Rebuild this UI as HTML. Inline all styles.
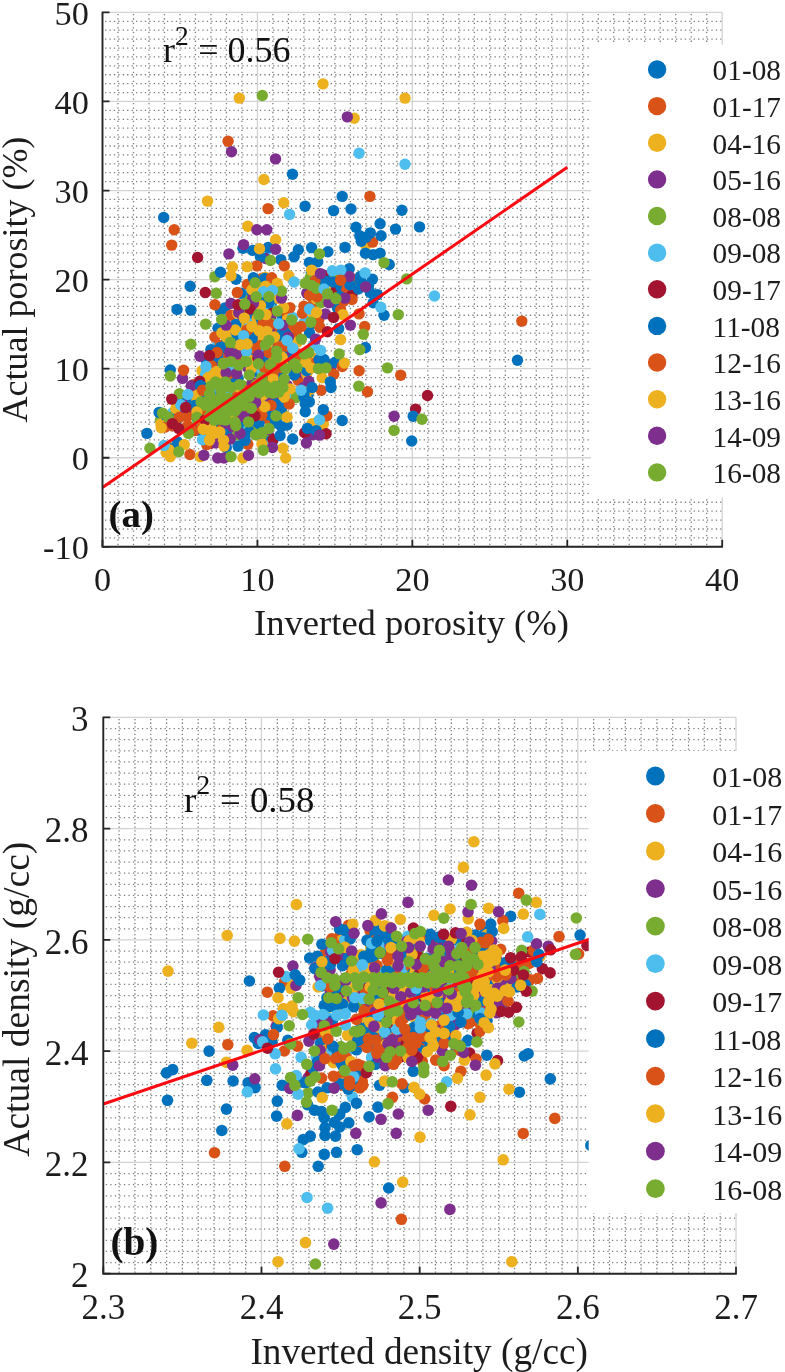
<!DOCTYPE html>
<html><head><meta charset="utf-8"><title>Figure</title>
<style>html,body{margin:0;padding:0;background:#fff}svg{display:block}</style></head>
<body><svg width="785" height="1372" viewBox="0 0 785 1372">
<rect width="785" height="1372" fill="#fff"/>
<path d="M117.99 13.90V546.8M133.49 13.90V546.8M148.98 13.90V546.8M164.47 13.90V546.8M179.96 13.90V546.8M195.46 13.90V546.8M210.95 13.90V546.8M226.44 13.90V546.8M241.93 13.90V546.8M272.92 13.90V546.8M288.41 13.90V546.8M303.90 13.90V546.8M319.39 13.90V546.8M334.89 13.90V546.8M350.38 13.90V546.8M365.87 13.90V546.8M381.37 13.90V546.8M396.86 13.90V546.8M427.84 13.90V546.8M443.34 13.90V546.8M458.83 13.90V546.8M474.32 13.90V546.8M489.81 13.90V546.8M505.31 13.90V546.8M520.80 13.90V546.8M536.29 13.90V546.8M551.78 13.90V546.8M582.77 13.90V546.8M598.26 13.90V546.8M613.75 13.90V546.8M629.25 13.90V546.8M644.74 13.90V546.8M660.23 13.90V546.8M675.72 13.90V546.8M691.22 13.90V546.8M706.71 13.90V546.8" stroke="#7c7c7c" stroke-width="1.3" stroke-dasharray="1.3 3.153" fill="none"/>
<path d="M105.00 21.31H722.2M105.00 30.21H722.2M105.00 39.12H722.2M105.00 48.03H722.2M105.00 56.93H722.2M105.00 65.84H722.2M105.00 74.75H722.2M105.00 83.65H722.2M105.00 92.56H722.2M105.00 110.37H722.2M105.00 119.28H722.2M105.00 128.19H722.2M105.00 137.09H722.2M105.00 146.00H722.2M105.00 154.91H722.2M105.00 163.81H722.2M105.00 172.72H722.2M105.00 181.63H722.2M105.00 199.44H722.2M105.00 208.35H722.2M105.00 217.25H722.2M105.00 226.16H722.2M105.00 235.07H722.2M105.00 243.97H722.2M105.00 252.88H722.2M105.00 261.79H722.2M105.00 270.69H722.2M105.00 288.51H722.2M105.00 297.41H722.2M105.00 306.32H722.2M105.00 315.23H722.2M105.00 324.13H722.2M105.00 333.04H722.2M105.00 341.95H722.2M105.00 350.85H722.2M105.00 359.76H722.2M105.00 377.57H722.2M105.00 386.48H722.2M105.00 395.39H722.2M105.00 404.29H722.2M105.00 413.20H722.2M105.00 422.11H722.2M105.00 431.01H722.2M105.00 439.92H722.2M105.00 448.83H722.2M105.00 466.64H722.2M105.00 475.55H722.2M105.00 484.45H722.2M105.00 493.36H722.2M105.00 502.27H722.2M105.00 511.17H722.2M105.00 520.08H722.2M105.00 528.99H722.2M105.00 537.89H722.2" stroke="#7c7c7c" stroke-width="1.3" stroke-dasharray="1.3 3.126" fill="none"/>
<path d="M102.50 12.4V546.8M257.43 12.4V546.8M412.35 12.4V546.8M567.28 12.4V546.8M722.20 12.4V546.8M102.5 12.40H722.2M102.5 101.47H722.2M102.5 190.53H722.2M102.5 279.60H722.2M102.5 368.67H722.2M102.5 457.73H722.2M102.5 546.80H722.2" stroke="#d3d3d3" stroke-width="1.3" fill="none"/>
<clipPath id="clipa"><rect x="102.5" y="4.4" width="627.7" height="550.4"/></clipPath>
<g clip-path="url(#clipa)">
<g fill="#77AC30"><circle cx="160.4" cy="420.3" r="5.7"/></g>
<g fill="#EDB120"><circle cx="160.9" cy="423.9" r="5.7"/></g>
<g fill="#0072BD"><circle cx="167.5" cy="420.1" r="5.7"/></g>
<g fill="#EDB120"><circle cx="165.0" cy="425.2" r="5.7"/><circle cx="167.9" cy="446.9" r="5.7"/></g>
<g fill="#4DBEEE"><circle cx="172.8" cy="412.8" r="5.7"/></g>
<g fill="#0072BD"><circle cx="173.5" cy="417.0" r="5.7"/></g>
<g fill="#D95319"><circle cx="172.1" cy="425.7" r="5.7"/></g>
<g fill="#0072BD"><circle cx="170.8" cy="448.6" r="5.7"/></g>
<g fill="#EDB120"><circle cx="175.8" cy="408.7" r="5.7"/></g>
<g fill="#0072BD"><circle cx="175.8" cy="422.8" r="5.7"/><circle cx="181.7" cy="403.1" r="5.7"/></g>
<g fill="#7E2F8E"><circle cx="188.3" cy="404.1" r="5.7"/></g>
<g fill="#4DBEEE"><circle cx="185.6" cy="410.9" r="5.7"/></g>
<g fill="#7E2F8E"><circle cx="185.4" cy="413.2" r="5.7"/></g>
<g fill="#D95319"><circle cx="187.7" cy="425.6" r="5.7"/><circle cx="193.2" cy="384.6" r="5.7"/></g>
<g fill="#77AC30"><circle cx="192.3" cy="395.4" r="5.7"/></g>
<g fill="#0072BD"><circle cx="191.9" cy="404.3" r="5.7"/></g>
<g fill="#D95319"><circle cx="190.9" cy="410.1" r="5.7"/></g>
<g fill="#7E2F8E"><circle cx="190.6" cy="414.1" r="5.7"/></g>
<g fill="#EDB120"><circle cx="197.6" cy="393.4" r="5.7"/><circle cx="196.9" cy="400.0" r="5.7"/></g>
<g fill="#0072BD"><circle cx="196.5" cy="408.9" r="5.7"/></g>
<g fill="#A2142F"><circle cx="195.1" cy="414.7" r="5.7"/></g>
<g fill="#0072BD"><circle cx="197.3" cy="418.5" r="5.7"/></g>
<g fill="#77AC30"><circle cx="196.9" cy="425.8" r="5.7"/></g>
<g fill="#0072BD"><circle cx="197.1" cy="430.3" r="5.7"/></g>
<g fill="#EDB120"><circle cx="202.0" cy="370.7" r="5.7"/><circle cx="201.7" cy="383.0" r="5.7"/></g>
<g fill="#77AC30"><circle cx="203.7" cy="391.9" r="5.7"/></g>
<g fill="#7E2F8E"><circle cx="203.2" cy="405.4" r="5.7"/></g>
<g fill="#EDB120"><circle cx="203.1" cy="409.0" r="5.7"/></g>
<g fill="#4DBEEE"><circle cx="201.6" cy="412.1" r="5.7"/></g>
<g fill="#EDB120"><circle cx="202.2" cy="422.7" r="5.7"/></g>
<g fill="#D95319"><circle cx="201.8" cy="428.3" r="5.7"/></g>
<g fill="#EDB120"><circle cx="207.1" cy="359.4" r="5.7"/></g>
<g fill="#0072BD"><circle cx="206.7" cy="362.0" r="5.7"/></g>
<g fill="#4DBEEE"><circle cx="205.6" cy="374.2" r="5.7"/></g>
<g fill="#77AC30"><circle cx="208.1" cy="380.1" r="5.7"/></g>
<g fill="#7E2F8E"><circle cx="205.9" cy="385.3" r="5.7"/></g>
<g fill="#0072BD"><circle cx="205.2" cy="387.0" r="5.7"/><circle cx="207.9" cy="392.9" r="5.7"/><circle cx="207.4" cy="398.3" r="5.7"/><circle cx="205.5" cy="404.0" r="5.7"/></g>
<g fill="#EDB120"><circle cx="206.0" cy="409.7" r="5.7"/></g>
<g fill="#0072BD"><circle cx="206.2" cy="413.8" r="5.7"/><circle cx="206.4" cy="418.6" r="5.7"/></g>
<g fill="#EDB120"><circle cx="205.3" cy="425.5" r="5.7"/></g>
<g fill="#77AC30"><circle cx="205.7" cy="429.3" r="5.7"/></g>
<g fill="#0072BD"><circle cx="205.0" cy="432.0" r="5.7"/></g>
<g fill="#7E2F8E"><circle cx="207.8" cy="437.5" r="5.7"/></g>
<g fill="#0072BD"><circle cx="212.6" cy="359.1" r="5.7"/></g>
<g fill="#EDB120"><circle cx="213.8" cy="365.1" r="5.7"/></g>
<g fill="#D95319"><circle cx="210.8" cy="369.5" r="5.7"/></g>
<g fill="#7E2F8E"><circle cx="212.2" cy="373.2" r="5.7"/></g>
<g fill="#A2142F"><circle cx="210.1" cy="378.1" r="5.7"/></g>
<g fill="#4DBEEE"><circle cx="213.4" cy="383.1" r="5.7"/></g>
<g fill="#7E2F8E"><circle cx="211.1" cy="390.7" r="5.7"/></g>
<g fill="#0072BD"><circle cx="211.6" cy="392.9" r="5.7"/></g>
<g fill="#77AC30"><circle cx="213.4" cy="397.1" r="5.7"/></g>
<g fill="#0072BD"><circle cx="213.7" cy="404.2" r="5.7"/></g>
<g fill="#7E2F8E"><circle cx="213.4" cy="410.8" r="5.7"/></g>
<g fill="#D95319"><circle cx="211.9" cy="413.4" r="5.7"/></g>
<g fill="#EDB120"><circle cx="210.7" cy="419.6" r="5.7"/></g>
<g fill="#7E2F8E"><circle cx="210.7" cy="422.3" r="5.7"/></g>
<g fill="#D95319"><circle cx="211.1" cy="428.9" r="5.7"/></g>
<g fill="#0072BD"><circle cx="213.4" cy="440.5" r="5.7"/></g>
<g fill="#A2142F"><circle cx="210.7" cy="443.2" r="5.7"/></g>
<g fill="#0072BD"><circle cx="218.0" cy="328.3" r="5.7"/></g>
<g fill="#4DBEEE"><circle cx="217.6" cy="345.3" r="5.7"/></g>
<g fill="#7E2F8E"><circle cx="216.3" cy="355.4" r="5.7"/></g>
<g fill="#0072BD"><circle cx="216.8" cy="360.8" r="5.7"/><circle cx="217.8" cy="362.2" r="5.7"/></g>
<g fill="#7E2F8E"><circle cx="218.5" cy="367.8" r="5.7"/></g>
<g fill="#D95319"><circle cx="217.3" cy="375.3" r="5.7"/></g>
<g fill="#4DBEEE"><circle cx="216.3" cy="378.1" r="5.7"/><circle cx="217.3" cy="385.7" r="5.7"/></g>
<g fill="#0072BD"><circle cx="215.4" cy="389.1" r="5.7"/></g>
<g fill="#4DBEEE"><circle cx="215.1" cy="392.2" r="5.7"/></g>
<g fill="#D95319"><circle cx="218.1" cy="400.2" r="5.7"/><circle cx="217.4" cy="405.0" r="5.7"/></g>
<g fill="#0072BD"><circle cx="217.2" cy="407.8" r="5.7"/></g>
<g fill="#EDB120"><circle cx="216.0" cy="415.5" r="5.7"/></g>
<g fill="#D95319"><circle cx="218.6" cy="418.7" r="5.7"/></g>
<g fill="#0072BD"><circle cx="218.0" cy="425.2" r="5.7"/><circle cx="217.6" cy="427.3" r="5.7"/></g>
<g fill="#D95319"><circle cx="218.4" cy="432.1" r="5.7"/></g>
<g fill="#0072BD"><circle cx="218.9" cy="438.6" r="5.7"/></g>
<g fill="#7E2F8E"><circle cx="215.6" cy="442.9" r="5.7"/></g>
<g fill="#D95319"><circle cx="220.3" cy="345.5" r="5.7"/><circle cx="223.8" cy="350.5" r="5.7"/></g>
<g fill="#0072BD"><circle cx="220.9" cy="353.8" r="5.7"/><circle cx="222.5" cy="357.1" r="5.7"/></g>
<g fill="#EDB120"><circle cx="223.8" cy="363.1" r="5.7"/></g>
<g fill="#0072BD"><circle cx="221.7" cy="368.2" r="5.7"/></g>
<g fill="#A2142F"><circle cx="223.6" cy="375.8" r="5.7"/></g>
<g fill="#EDB120"><circle cx="220.3" cy="377.8" r="5.7"/></g>
<g fill="#7E2F8E"><circle cx="223.8" cy="384.1" r="5.7"/></g>
<g fill="#EDB120"><circle cx="222.5" cy="387.9" r="5.7"/></g>
<g fill="#0072BD"><circle cx="221.1" cy="392.9" r="5.7"/></g>
<g fill="#EDB120"><circle cx="221.0" cy="400.8" r="5.7"/></g>
<g fill="#4DBEEE"><circle cx="222.5" cy="404.5" r="5.7"/></g>
<g fill="#D95319"><circle cx="221.5" cy="408.1" r="5.7"/></g>
<g fill="#4DBEEE"><circle cx="221.2" cy="415.3" r="5.7"/></g>
<g fill="#EDB120"><circle cx="221.1" cy="418.2" r="5.7"/></g>
<g fill="#D95319"><circle cx="222.2" cy="429.3" r="5.7"/></g>
<g fill="#0072BD"><circle cx="225.0" cy="307.9" r="5.7"/><circle cx="227.1" cy="327.2" r="5.7"/></g>
<g fill="#77AC30"><circle cx="227.4" cy="333.1" r="5.7"/></g>
<g fill="#0072BD"><circle cx="226.9" cy="340.4" r="5.7"/><circle cx="226.9" cy="345.1" r="5.7"/></g>
<g fill="#77AC30"><circle cx="228.7" cy="347.6" r="5.7"/></g>
<g fill="#D95319"><circle cx="228.8" cy="355.2" r="5.7"/></g>
<g fill="#4DBEEE"><circle cx="225.3" cy="364.0" r="5.7"/></g>
<g fill="#0072BD"><circle cx="226.1" cy="370.5" r="5.7"/></g>
<g fill="#D95319"><circle cx="228.5" cy="377.0" r="5.7"/></g>
<g fill="#4DBEEE"><circle cx="228.5" cy="395.1" r="5.7"/></g>
<g fill="#7E2F8E"><circle cx="228.3" cy="399.9" r="5.7"/></g>
<g fill="#0072BD"><circle cx="225.6" cy="403.6" r="5.7"/></g>
<g fill="#D95319"><circle cx="227.8" cy="409.6" r="5.7"/></g>
<g fill="#77AC30"><circle cx="225.2" cy="415.8" r="5.7"/><circle cx="227.1" cy="419.1" r="5.7"/></g>
<g fill="#D95319"><circle cx="226.7" cy="423.5" r="5.7"/></g>
<g fill="#7E2F8E"><circle cx="225.9" cy="427.0" r="5.7"/></g>
<g fill="#0072BD"><circle cx="226.6" cy="434.2" r="5.7"/><circle cx="226.3" cy="447.5" r="5.7"/></g>
<g fill="#D95319"><circle cx="230.9" cy="315.2" r="5.7"/></g>
<g fill="#0072BD"><circle cx="231.5" cy="329.3" r="5.7"/></g>
<g fill="#EDB120"><circle cx="229.9" cy="334.0" r="5.7"/></g>
<g fill="#7E2F8E"><circle cx="232.5" cy="338.7" r="5.7"/></g>
<g fill="#EDB120"><circle cx="232.8" cy="342.9" r="5.7"/></g>
<g fill="#D95319"><circle cx="231.8" cy="347.8" r="5.7"/></g>
<g fill="#4DBEEE"><circle cx="232.1" cy="365.5" r="5.7"/></g>
<g fill="#0072BD"><circle cx="231.0" cy="384.5" r="5.7"/></g>
<g fill="#4DBEEE"><circle cx="230.2" cy="388.9" r="5.7"/><circle cx="230.5" cy="395.0" r="5.7"/></g>
<g fill="#77AC30"><circle cx="231.1" cy="399.7" r="5.7"/></g>
<g fill="#7E2F8E"><circle cx="231.4" cy="404.7" r="5.7"/></g>
<g fill="#4DBEEE"><circle cx="232.3" cy="410.3" r="5.7"/></g>
<g fill="#0072BD"><circle cx="233.7" cy="414.2" r="5.7"/></g>
<g fill="#EDB120"><circle cx="230.9" cy="417.8" r="5.7"/></g>
<g fill="#7E2F8E"><circle cx="232.9" cy="427.1" r="5.7"/></g>
<g fill="#EDB120"><circle cx="237.8" cy="313.3" r="5.7"/></g>
<g fill="#0072BD"><circle cx="235.6" cy="334.8" r="5.7"/></g>
<g fill="#7E2F8E"><circle cx="238.8" cy="340.1" r="5.7"/></g>
<g fill="#A2142F"><circle cx="236.0" cy="345.6" r="5.7"/></g>
<g fill="#77AC30"><circle cx="235.5" cy="350.0" r="5.7"/></g>
<g fill="#EDB120"><circle cx="237.5" cy="354.7" r="5.7"/></g>
<g fill="#D95319"><circle cx="238.6" cy="360.8" r="5.7"/></g>
<g fill="#0072BD"><circle cx="238.1" cy="378.6" r="5.7"/></g>
<g fill="#4DBEEE"><circle cx="236.2" cy="387.4" r="5.7"/></g>
<g fill="#EDB120"><circle cx="238.7" cy="392.4" r="5.7"/></g>
<g fill="#D95319"><circle cx="236.5" cy="397.4" r="5.7"/></g>
<g fill="#0072BD"><circle cx="235.9" cy="404.9" r="5.7"/><circle cx="235.7" cy="408.7" r="5.7"/></g>
<g fill="#77AC30"><circle cx="237.4" cy="414.3" r="5.7"/></g>
<g fill="#EDB120"><circle cx="235.7" cy="418.0" r="5.7"/></g>
<g fill="#D95319"><circle cx="236.0" cy="424.2" r="5.7"/></g>
<g fill="#77AC30"><circle cx="237.6" cy="435.1" r="5.7"/></g>
<g fill="#EDB120"><circle cx="243.8" cy="304.1" r="5.7"/><circle cx="243.3" cy="310.0" r="5.7"/></g>
<g fill="#0072BD"><circle cx="241.4" cy="313.0" r="5.7"/></g>
<g fill="#7E2F8E"><circle cx="243.1" cy="317.4" r="5.7"/><circle cx="242.1" cy="325.8" r="5.7"/></g>
<g fill="#EDB120"><circle cx="243.8" cy="327.4" r="5.7"/><circle cx="242.2" cy="333.1" r="5.7"/></g>
<g fill="#0072BD"><circle cx="241.3" cy="339.0" r="5.7"/></g>
<g fill="#D95319"><circle cx="241.7" cy="343.7" r="5.7"/></g>
<g fill="#7E2F8E"><circle cx="241.5" cy="350.0" r="5.7"/></g>
<g fill="#D95319"><circle cx="241.9" cy="354.5" r="5.7"/><circle cx="240.7" cy="361.9" r="5.7"/></g>
<g fill="#77AC30"><circle cx="242.3" cy="385.4" r="5.7"/></g>
<g fill="#EDB120"><circle cx="241.9" cy="395.8" r="5.7"/></g>
<g fill="#7E2F8E"><circle cx="243.2" cy="403.5" r="5.7"/></g>
<g fill="#0072BD"><circle cx="243.9" cy="408.1" r="5.7"/></g>
<g fill="#D95319"><circle cx="242.4" cy="414.0" r="5.7"/><circle cx="239.9" cy="418.5" r="5.7"/></g>
<g fill="#EDB120"><circle cx="241.5" cy="425.3" r="5.7"/></g>
<g fill="#7E2F8E"><circle cx="242.8" cy="430.5" r="5.7"/><circle cx="241.9" cy="434.9" r="5.7"/></g>
<g fill="#D95319"><circle cx="247.5" cy="284.4" r="5.7"/></g>
<g fill="#4DBEEE"><circle cx="247.4" cy="294.4" r="5.7"/></g>
<g fill="#77AC30"><circle cx="248.0" cy="300.3" r="5.7"/></g>
<g fill="#D95319"><circle cx="248.2" cy="304.3" r="5.7"/></g>
<g fill="#4DBEEE"><circle cx="246.0" cy="309.7" r="5.7"/></g>
<g fill="#77AC30"><circle cx="247.1" cy="312.5" r="5.7"/></g>
<g fill="#0072BD"><circle cx="246.8" cy="318.8" r="5.7"/></g>
<g fill="#D95319"><circle cx="246.9" cy="329.9" r="5.7"/></g>
<g fill="#0072BD"><circle cx="246.3" cy="334.5" r="5.7"/></g>
<g fill="#7E2F8E"><circle cx="246.9" cy="340.7" r="5.7"/></g>
<g fill="#EDB120"><circle cx="246.5" cy="344.7" r="5.7"/></g>
<g fill="#4DBEEE"><circle cx="245.7" cy="352.7" r="5.7"/></g>
<g fill="#77AC30"><circle cx="246.0" cy="357.2" r="5.7"/></g>
<g fill="#EDB120"><circle cx="247.0" cy="363.4" r="5.7"/></g>
<g fill="#7E2F8E"><circle cx="247.8" cy="367.6" r="5.7"/></g>
<g fill="#D95319"><circle cx="247.8" cy="390.2" r="5.7"/></g>
<g fill="#EDB120"><circle cx="247.3" cy="392.8" r="5.7"/></g>
<g fill="#4DBEEE"><circle cx="245.6" cy="400.1" r="5.7"/></g>
<g fill="#A2142F"><circle cx="246.2" cy="402.8" r="5.7"/></g>
<g fill="#0072BD"><circle cx="247.7" cy="410.3" r="5.7"/></g>
<g fill="#D95319"><circle cx="248.5" cy="414.4" r="5.7"/></g>
<g fill="#77AC30"><circle cx="246.6" cy="419.9" r="5.7"/></g>
<g fill="#0072BD"><circle cx="245.7" cy="424.4" r="5.7"/></g>
<g fill="#4DBEEE"><circle cx="248.8" cy="428.7" r="5.7"/></g>
<g fill="#D95319"><circle cx="247.8" cy="444.3" r="5.7"/></g>
<g fill="#0072BD"><circle cx="252.0" cy="292.5" r="5.7"/></g>
<g fill="#7E2F8E"><circle cx="252.8" cy="298.3" r="5.7"/><circle cx="250.9" cy="309.8" r="5.7"/></g>
<g fill="#D95319"><circle cx="251.1" cy="312.3" r="5.7"/></g>
<g fill="#0072BD"><circle cx="251.9" cy="317.3" r="5.7"/></g>
<g fill="#4DBEEE"><circle cx="250.1" cy="324.3" r="5.7"/></g>
<g fill="#7E2F8E"><circle cx="250.8" cy="332.0" r="5.7"/></g>
<g fill="#EDB120"><circle cx="253.2" cy="340.8" r="5.7"/></g>
<g fill="#0072BD"><circle cx="251.3" cy="345.3" r="5.7"/></g>
<g fill="#D95319"><circle cx="252.7" cy="347.3" r="5.7"/></g>
<g fill="#0072BD"><circle cx="251.9" cy="353.4" r="5.7"/></g>
<g fill="#EDB120"><circle cx="250.8" cy="360.2" r="5.7"/></g>
<g fill="#7E2F8E"><circle cx="252.2" cy="382.7" r="5.7"/></g>
<g fill="#4DBEEE"><circle cx="251.2" cy="394.3" r="5.7"/></g>
<g fill="#77AC30"><circle cx="253.9" cy="397.1" r="5.7"/></g>
<g fill="#D95319"><circle cx="253.3" cy="403.2" r="5.7"/><circle cx="252.2" cy="410.6" r="5.7"/></g>
<g fill="#0072BD"><circle cx="253.4" cy="414.9" r="5.7"/><circle cx="253.6" cy="417.0" r="5.7"/></g>
<g fill="#D95319"><circle cx="252.6" cy="422.1" r="5.7"/></g>
<g fill="#77AC30"><circle cx="250.4" cy="428.8" r="5.7"/></g>
<g fill="#0072BD"><circle cx="253.5" cy="432.0" r="5.7"/></g>
<g fill="#D95319"><circle cx="258.3" cy="282.1" r="5.7"/></g>
<g fill="#0072BD"><circle cx="255.4" cy="287.3" r="5.7"/></g>
<g fill="#7E2F8E"><circle cx="257.5" cy="294.9" r="5.7"/></g>
<g fill="#D95319"><circle cx="258.3" cy="299.6" r="5.7"/></g>
<g fill="#7E2F8E"><circle cx="257.4" cy="305.8" r="5.7"/></g>
<g fill="#4DBEEE"><circle cx="255.9" cy="307.1" r="5.7"/></g>
<g fill="#EDB120"><circle cx="257.3" cy="318.3" r="5.7"/></g>
<g fill="#0072BD"><circle cx="257.1" cy="329.0" r="5.7"/><circle cx="256.3" cy="338.6" r="5.7"/></g>
<g fill="#7E2F8E"><circle cx="258.4" cy="343.6" r="5.7"/><circle cx="257.8" cy="349.9" r="5.7"/></g>
<g fill="#A2142F"><circle cx="257.9" cy="357.9" r="5.7"/></g>
<g fill="#77AC30"><circle cx="255.5" cy="370.6" r="5.7"/></g>
<g fill="#0072BD"><circle cx="258.3" cy="372.1" r="5.7"/></g>
<g fill="#D95319"><circle cx="258.2" cy="383.8" r="5.7"/></g>
<g fill="#EDB120"><circle cx="258.8" cy="387.1" r="5.7"/></g>
<g fill="#D95319"><circle cx="256.7" cy="397.4" r="5.7"/></g>
<g fill="#0072BD"><circle cx="257.7" cy="405.4" r="5.7"/></g>
<g fill="#77AC30"><circle cx="257.0" cy="407.3" r="5.7"/></g>
<g fill="#D95319"><circle cx="255.2" cy="412.0" r="5.7"/></g>
<g fill="#0072BD"><circle cx="257.8" cy="423.2" r="5.7"/></g>
<g fill="#77AC30"><circle cx="258.1" cy="430.1" r="5.7"/></g>
<g fill="#D95319"><circle cx="261.1" cy="253.6" r="5.7"/><circle cx="262.1" cy="278.2" r="5.7"/></g>
<g fill="#EDB120"><circle cx="263.0" cy="285.7" r="5.7"/><circle cx="260.3" cy="289.5" r="5.7"/></g>
<g fill="#77AC30"><circle cx="263.9" cy="294.8" r="5.7"/></g>
<g fill="#4DBEEE"><circle cx="262.7" cy="299.0" r="5.7"/></g>
<g fill="#0072BD"><circle cx="263.2" cy="303.1" r="5.7"/><circle cx="261.4" cy="309.0" r="5.7"/><circle cx="261.3" cy="319.2" r="5.7"/></g>
<g fill="#D95319"><circle cx="263.2" cy="324.5" r="5.7"/><circle cx="261.1" cy="333.3" r="5.7"/></g>
<g fill="#EDB120"><circle cx="262.9" cy="338.9" r="5.7"/></g>
<g fill="#D95319"><circle cx="260.5" cy="345.6" r="5.7"/></g>
<g fill="#A2142F"><circle cx="261.2" cy="357.2" r="5.7"/></g>
<g fill="#4DBEEE"><circle cx="261.8" cy="370.6" r="5.7"/><circle cx="263.8" cy="375.2" r="5.7"/></g>
<g fill="#0072BD"><circle cx="263.6" cy="380.1" r="5.7"/></g>
<g fill="#A2142F"><circle cx="262.0" cy="384.2" r="5.7"/></g>
<g fill="#7E2F8E"><circle cx="263.0" cy="389.7" r="5.7"/><circle cx="261.3" cy="400.7" r="5.7"/></g>
<g fill="#A2142F"><circle cx="261.5" cy="433.8" r="5.7"/></g>
<g fill="#0072BD"><circle cx="262.0" cy="437.6" r="5.7"/></g>
<g fill="#4DBEEE"><circle cx="267.6" cy="249.2" r="5.7"/></g>
<g fill="#7E2F8E"><circle cx="265.6" cy="258.5" r="5.7"/></g>
<g fill="#EDB120"><circle cx="265.1" cy="277.3" r="5.7"/></g>
<g fill="#D95319"><circle cx="266.0" cy="282.3" r="5.7"/></g>
<g fill="#0072BD"><circle cx="267.4" cy="289.0" r="5.7"/></g>
<g fill="#7E2F8E"><circle cx="265.2" cy="295.3" r="5.7"/></g>
<g fill="#0072BD"><circle cx="265.6" cy="300.3" r="5.7"/></g>
<g fill="#7E2F8E"><circle cx="266.4" cy="305.3" r="5.7"/></g>
<g fill="#EDB120"><circle cx="266.0" cy="310.5" r="5.7"/></g>
<g fill="#D95319"><circle cx="268.4" cy="315.5" r="5.7"/></g>
<g fill="#4DBEEE"><circle cx="267.6" cy="324.1" r="5.7"/></g>
<g fill="#77AC30"><circle cx="268.1" cy="329.8" r="5.7"/></g>
<g fill="#0072BD"><circle cx="268.9" cy="332.9" r="5.7"/></g>
<g fill="#EDB120"><circle cx="267.9" cy="345.0" r="5.7"/></g>
<g fill="#4DBEEE"><circle cx="266.8" cy="348.5" r="5.7"/></g>
<g fill="#0072BD"><circle cx="268.1" cy="354.2" r="5.7"/><circle cx="268.3" cy="358.7" r="5.7"/><circle cx="266.1" cy="364.7" r="5.7"/></g>
<g fill="#4DBEEE"><circle cx="265.4" cy="368.1" r="5.7"/></g>
<g fill="#EDB120"><circle cx="267.9" cy="375.8" r="5.7"/><circle cx="267.2" cy="379.1" r="5.7"/></g>
<g fill="#A2142F"><circle cx="267.1" cy="385.2" r="5.7"/></g>
<g fill="#D95319"><circle cx="266.5" cy="389.4" r="5.7"/></g>
<g fill="#EDB120"><circle cx="266.1" cy="398.9" r="5.7"/></g>
<g fill="#0072BD"><circle cx="267.1" cy="405.8" r="5.7"/></g>
<g fill="#7E2F8E"><circle cx="267.4" cy="415.9" r="5.7"/></g>
<g fill="#D95319"><circle cx="267.2" cy="418.4" r="5.7"/></g>
<g fill="#7E2F8E"><circle cx="268.6" cy="435.5" r="5.7"/></g>
<g fill="#77AC30"><circle cx="268.5" cy="440.6" r="5.7"/><circle cx="271.4" cy="283.8" r="5.7"/></g>
<g fill="#EDB120"><circle cx="271.4" cy="289.9" r="5.7"/></g>
<g fill="#0072BD"><circle cx="271.2" cy="293.7" r="5.7"/><circle cx="271.3" cy="303.6" r="5.7"/></g>
<g fill="#4DBEEE"><circle cx="270.6" cy="307.9" r="5.7"/></g>
<g fill="#A2142F"><circle cx="272.3" cy="313.0" r="5.7"/></g>
<g fill="#7E2F8E"><circle cx="270.9" cy="319.0" r="5.7"/></g>
<g fill="#77AC30"><circle cx="272.7" cy="323.6" r="5.7"/></g>
<g fill="#EDB120"><circle cx="271.8" cy="329.8" r="5.7"/></g>
<g fill="#0072BD"><circle cx="273.8" cy="334.8" r="5.7"/><circle cx="270.4" cy="345.8" r="5.7"/></g>
<g fill="#EDB120"><circle cx="270.0" cy="347.9" r="5.7"/></g>
<g fill="#7E2F8E"><circle cx="273.7" cy="353.5" r="5.7"/></g>
<g fill="#EDB120"><circle cx="273.2" cy="362.3" r="5.7"/><circle cx="273.9" cy="374.1" r="5.7"/></g>
<g fill="#A2142F"><circle cx="271.3" cy="380.7" r="5.7"/></g>
<g fill="#D95319"><circle cx="270.3" cy="384.1" r="5.7"/><circle cx="272.6" cy="387.4" r="5.7"/></g>
<g fill="#77AC30"><circle cx="271.0" cy="393.8" r="5.7"/></g>
<g fill="#7E2F8E"><circle cx="273.3" cy="400.0" r="5.7"/><circle cx="270.2" cy="403.5" r="5.7"/></g>
<g fill="#4DBEEE"><circle cx="271.1" cy="408.9" r="5.7"/></g>
<g fill="#0072BD"><circle cx="270.4" cy="415.3" r="5.7"/><circle cx="271.4" cy="440.5" r="5.7"/></g>
<g fill="#4DBEEE"><circle cx="272.0" cy="443.6" r="5.7"/></g>
<g fill="#EDB120"><circle cx="278.9" cy="288.1" r="5.7"/></g>
<g fill="#0072BD"><circle cx="278.5" cy="294.1" r="5.7"/></g>
<g fill="#EDB120"><circle cx="277.9" cy="298.2" r="5.7"/></g>
<g fill="#7E2F8E"><circle cx="274.9" cy="330.9" r="5.7"/></g>
<g fill="#D95319"><circle cx="278.6" cy="335.8" r="5.7"/></g>
<g fill="#7E2F8E"><circle cx="277.1" cy="338.7" r="5.7"/></g>
<g fill="#D95319"><circle cx="278.3" cy="342.8" r="5.7"/></g>
<g fill="#0072BD"><circle cx="277.7" cy="348.5" r="5.7"/></g>
<g fill="#EDB120"><circle cx="275.7" cy="354.1" r="5.7"/><circle cx="278.7" cy="364.0" r="5.7"/></g>
<g fill="#D95319"><circle cx="275.5" cy="368.6" r="5.7"/></g>
<g fill="#0072BD"><circle cx="277.7" cy="373.0" r="5.7"/></g>
<g fill="#D95319"><circle cx="276.4" cy="383.8" r="5.7"/></g>
<g fill="#4DBEEE"><circle cx="277.3" cy="387.6" r="5.7"/></g>
<g fill="#0072BD"><circle cx="277.7" cy="394.0" r="5.7"/></g>
<g fill="#7E2F8E"><circle cx="276.2" cy="399.7" r="5.7"/></g>
<g fill="#D95319"><circle cx="278.1" cy="405.5" r="5.7"/></g>
<g fill="#0072BD"><circle cx="276.9" cy="418.2" r="5.7"/><circle cx="275.5" cy="422.9" r="5.7"/></g>
<g fill="#EDB120"><circle cx="282.1" cy="314.7" r="5.7"/></g>
<g fill="#0072BD"><circle cx="282.6" cy="317.8" r="5.7"/></g>
<g fill="#D95319"><circle cx="282.2" cy="325.4" r="5.7"/><circle cx="279.9" cy="327.0" r="5.7"/></g>
<g fill="#0072BD"><circle cx="282.4" cy="332.2" r="5.7"/></g>
<g fill="#D95319"><circle cx="282.6" cy="340.8" r="5.7"/></g>
<g fill="#0072BD"><circle cx="282.3" cy="344.0" r="5.7"/></g>
<g fill="#D95319"><circle cx="281.2" cy="367.5" r="5.7"/></g>
<g fill="#0072BD"><circle cx="283.0" cy="379.6" r="5.7"/><circle cx="280.2" cy="384.8" r="5.7"/><circle cx="281.2" cy="388.0" r="5.7"/></g>
<g fill="#D95319"><circle cx="280.0" cy="392.5" r="5.7"/><circle cx="283.6" cy="399.5" r="5.7"/></g>
<g fill="#EDB120"><circle cx="282.6" cy="403.0" r="5.7"/></g>
<g fill="#D95319"><circle cx="281.2" cy="410.7" r="5.7"/></g>
<g fill="#77AC30"><circle cx="283.1" cy="414.5" r="5.7"/></g>
<g fill="#D95319"><circle cx="287.3" cy="315.4" r="5.7"/></g>
<g fill="#EDB120"><circle cx="287.6" cy="319.4" r="5.7"/></g>
<g fill="#D95319"><circle cx="287.2" cy="329.0" r="5.7"/></g>
<g fill="#EDB120"><circle cx="288.5" cy="334.4" r="5.7"/></g>
<g fill="#0072BD"><circle cx="285.1" cy="338.9" r="5.7"/></g>
<g fill="#EDB120"><circle cx="285.8" cy="343.6" r="5.7"/><circle cx="285.9" cy="348.0" r="5.7"/></g>
<g fill="#0072BD"><circle cx="286.8" cy="353.5" r="5.7"/></g>
<g fill="#EDB120"><circle cx="286.4" cy="359.5" r="5.7"/></g>
<g fill="#7E2F8E"><circle cx="287.1" cy="385.3" r="5.7"/></g>
<g fill="#D95319"><circle cx="287.6" cy="397.0" r="5.7"/></g>
<g fill="#4DBEEE"><circle cx="292.6" cy="317.5" r="5.7"/></g>
<g fill="#0072BD"><circle cx="290.5" cy="335.4" r="5.7"/></g>
<g fill="#D95319"><circle cx="293.3" cy="340.3" r="5.7"/></g>
<g fill="#77AC30"><circle cx="293.5" cy="342.5" r="5.7"/></g>
<g fill="#0072BD"><circle cx="291.4" cy="348.7" r="5.7"/></g>
<g fill="#7E2F8E"><circle cx="292.3" cy="353.0" r="5.7"/></g>
<g fill="#0072BD"><circle cx="293.1" cy="359.3" r="5.7"/></g>
<g fill="#7E2F8E"><circle cx="293.7" cy="365.6" r="5.7"/></g>
<g fill="#4DBEEE"><circle cx="291.4" cy="394.1" r="5.7"/></g>
<g fill="#EDB120"><circle cx="296.7" cy="330.0" r="5.7"/></g>
<g fill="#D95319"><circle cx="296.6" cy="335.6" r="5.7"/></g>
<g fill="#EDB120"><circle cx="297.3" cy="342.1" r="5.7"/></g>
<g fill="#0072BD"><circle cx="295.0" cy="354.7" r="5.7"/><circle cx="295.1" cy="357.3" r="5.7"/></g>
<g fill="#D95319"><circle cx="296.9" cy="363.3" r="5.7"/></g>
<g fill="#7E2F8E"><circle cx="298.8" cy="370.5" r="5.7"/></g>
<g fill="#D95319"><circle cx="298.1" cy="380.2" r="5.7"/></g>
<g fill="#EDB120"><circle cx="298.1" cy="392.9" r="5.7"/></g>
<g fill="#77AC30"><circle cx="296.3" cy="397.5" r="5.7"/></g>
<g fill="#4DBEEE"><circle cx="303.6" cy="323.2" r="5.7"/></g>
<g fill="#A2142F"><circle cx="301.3" cy="354.5" r="5.7"/></g>
<g fill="#EDB120"><circle cx="303.0" cy="357.1" r="5.7"/></g>
<g fill="#77AC30"><circle cx="301.4" cy="363.1" r="5.7"/></g>
<g fill="#7E2F8E"><circle cx="301.7" cy="369.7" r="5.7"/><circle cx="302.0" cy="372.1" r="5.7"/><circle cx="303.5" cy="387.6" r="5.7"/><circle cx="306.8" cy="293.3" r="5.7"/></g>
<g fill="#4DBEEE"><circle cx="308.8" cy="317.0" r="5.7"/></g>
<g fill="#0072BD"><circle cx="306.4" cy="360.2" r="5.7"/></g>
<g fill="#D95319"><circle cx="307.8" cy="362.3" r="5.7"/></g>
<g fill="#77AC30"><circle cx="308.8" cy="369.5" r="5.7"/></g>
<g fill="#EDB120"><circle cx="306.7" cy="373.8" r="5.7"/></g>
<g fill="#0072BD"><circle cx="308.0" cy="394.8" r="5.7"/></g>
<g fill="#EDB120"><circle cx="306.7" cy="399.1" r="5.7"/></g>
<g fill="#0072BD"><circle cx="308.6" cy="435.3" r="5.7"/><circle cx="311.4" cy="272.3" r="5.7"/></g>
<g fill="#77AC30"><circle cx="310.2" cy="277.6" r="5.7"/></g>
<g fill="#D95319"><circle cx="312.6" cy="290.1" r="5.7"/></g>
<g fill="#77AC30"><circle cx="310.5" cy="295.8" r="5.7"/></g>
<g fill="#D95319"><circle cx="313.7" cy="302.0" r="5.7"/></g>
<g fill="#4DBEEE"><circle cx="312.4" cy="319.8" r="5.7"/></g>
<g fill="#0072BD"><circle cx="312.1" cy="323.5" r="5.7"/></g>
<g fill="#4DBEEE"><circle cx="313.1" cy="345.8" r="5.7"/></g>
<g fill="#D95319"><circle cx="312.5" cy="358.3" r="5.7"/></g>
<g fill="#A2142F"><circle cx="313.0" cy="365.6" r="5.7"/></g>
<g fill="#EDB120"><circle cx="310.6" cy="389.2" r="5.7"/></g>
<g fill="#4DBEEE"><circle cx="311.6" cy="430.1" r="5.7"/></g>
<g fill="#7E2F8E"><circle cx="312.8" cy="434.7" r="5.7"/></g>
<g fill="#D95319"><circle cx="317.5" cy="274.0" r="5.7"/></g>
<g fill="#7E2F8E"><circle cx="318.0" cy="277.4" r="5.7"/><circle cx="316.4" cy="284.1" r="5.7"/></g>
<g fill="#D95319"><circle cx="316.8" cy="290.8" r="5.7"/><circle cx="314.9" cy="295.7" r="5.7"/></g>
<g fill="#EDB120"><circle cx="316.0" cy="298.6" r="5.7"/></g>
<g fill="#D95319"><circle cx="318.8" cy="319.7" r="5.7"/></g>
<g fill="#EDB120"><circle cx="317.0" cy="358.7" r="5.7"/></g>
<g fill="#D95319"><circle cx="316.6" cy="362.6" r="5.7"/></g>
<g fill="#77AC30"><circle cx="316.5" cy="422.7" r="5.7"/></g>
<g fill="#EDB120"><circle cx="316.3" cy="427.5" r="5.7"/></g>
<g fill="#7E2F8E"><circle cx="323.3" cy="275.0" r="5.7"/></g>
<g fill="#0072BD"><circle cx="322.8" cy="283.2" r="5.7"/></g>
<g fill="#D95319"><circle cx="320.9" cy="288.3" r="5.7"/></g>
<g fill="#0072BD"><circle cx="321.8" cy="292.5" r="5.7"/></g>
<g fill="#77AC30"><circle cx="320.9" cy="302.7" r="5.7"/></g>
<g fill="#EDB120"><circle cx="322.1" cy="377.7" r="5.7"/><circle cx="323.4" cy="424.2" r="5.7"/></g>
<g fill="#7E2F8E"><circle cx="326.5" cy="277.7" r="5.7"/></g>
<g fill="#0072BD"><circle cx="325.2" cy="285.0" r="5.7"/></g>
<g fill="#7E2F8E"><circle cx="327.9" cy="288.4" r="5.7"/></g>
<g fill="#EDB120"><circle cx="327.3" cy="292.4" r="5.7"/></g>
<g fill="#D95319"><circle cx="325.2" cy="362.9" r="5.7"/></g>
<g fill="#A2142F"><circle cx="331.0" cy="274.5" r="5.7"/></g>
<g fill="#0072BD"><circle cx="331.3" cy="280.3" r="5.7"/></g>
<g fill="#EDB120"><circle cx="332.7" cy="288.3" r="5.7"/></g>
<g fill="#0072BD"><circle cx="330.3" cy="295.2" r="5.7"/></g>
<g fill="#77AC30"><circle cx="331.8" cy="298.1" r="5.7"/></g>
<g fill="#7E2F8E"><circle cx="332.3" cy="364.4" r="5.7"/></g>
<g fill="#77AC30"><circle cx="335.9" cy="277.1" r="5.7"/></g>
<g fill="#A2142F"><circle cx="336.2" cy="290.1" r="5.7"/></g>
<g fill="#77AC30"><circle cx="337.4" cy="297.3" r="5.7"/></g>
<g fill="#0072BD"><circle cx="337.4" cy="307.9" r="5.7"/></g>
<g fill="#4DBEEE"><circle cx="336.9" cy="362.4" r="5.7"/></g>
<g fill="#D95319"><circle cx="342.7" cy="275.2" r="5.7"/></g>
<g fill="#7E2F8E"><circle cx="343.6" cy="277.4" r="5.7"/></g>
<g fill="#0072BD"><circle cx="340.9" cy="286.9" r="5.7"/></g>
<g fill="#D95319"><circle cx="340.7" cy="310.0" r="5.7"/><circle cx="346.8" cy="289.4" r="5.7"/></g>
<g fill="#4DBEEE"><circle cx="352.5" cy="279.6" r="5.7"/></g>
<g fill="#A2142F"><circle cx="351.9" cy="295.3" r="5.7"/></g>
<g fill="#D95319"><circle cx="358.0" cy="278.6" r="5.7"/></g>
<g fill="#0072BD"><circle cx="360.3" cy="280.2" r="5.7"/><circle cx="362.1" cy="283.7" r="5.7"/></g>
<g fill="#EDB120"><circle cx="365.8" cy="245.2" r="5.7"/></g>
<g fill="#0072BD"><circle cx="368.6" cy="285.5" r="5.7"/></g>
<g fill="#D95319"><circle cx="372.6" cy="242.1" r="5.7"/></g>
<g fill="#0072BD"><circle cx="292.5" cy="174.2" r="5.7"/><circle cx="342.2" cy="196.4" r="5.7"/><circle cx="305.1" cy="206.2" r="5.7"/><circle cx="333.6" cy="210.6" r="5.7"/><circle cx="351.0" cy="209.0" r="5.7"/><circle cx="401.9" cy="210.2" r="5.7"/><circle cx="163.7" cy="217.5" r="5.7"/><circle cx="190.2" cy="286.3" r="5.7"/><circle cx="242.9" cy="248.3" r="5.7"/><circle cx="252.7" cy="250.4" r="5.7"/><circle cx="268.2" cy="247.4" r="5.7"/><circle cx="260.5" cy="257.2" r="5.7"/><circle cx="280.8" cy="259.6" r="5.7"/><circle cx="298.3" cy="249.7" r="5.7"/><circle cx="294.1" cy="256.8" r="5.7"/><circle cx="311.6" cy="247.6" r="5.7"/><circle cx="309.5" cy="262.4" r="5.7"/><circle cx="235.9" cy="279.2" r="5.7"/><circle cx="253.4" cy="277.8" r="5.7"/><circle cx="264.7" cy="278.5" r="5.7"/><circle cx="240.8" cy="293.2" r="5.7"/><circle cx="380.1" cy="223.8" r="5.7"/><circle cx="395.5" cy="229.1" r="5.7"/><circle cx="356.0" cy="227.3" r="5.7"/><circle cx="370.3" cy="232.9" r="5.7"/><circle cx="359.8" cy="235.7" r="5.7"/><circle cx="366.1" cy="237.1" r="5.7"/><circle cx="381.1" cy="235.7" r="5.7"/><circle cx="361.2" cy="241.3" r="5.7"/><circle cx="345.0" cy="247.4" r="5.7"/><circle cx="327.9" cy="251.8" r="5.7"/><circle cx="365.4" cy="253.2" r="5.7"/><circle cx="373.1" cy="254.6" r="5.7"/><circle cx="380.1" cy="253.2" r="5.7"/><circle cx="389.2" cy="264.5" r="5.7"/><circle cx="317.7" cy="261.7" r="5.7"/><circle cx="349.2" cy="268.7" r="5.7"/><circle cx="360.5" cy="276.4" r="5.7"/><circle cx="372.4" cy="279.2" r="5.7"/><circle cx="358.4" cy="289.0" r="5.7"/><circle cx="349.9" cy="284.8" r="5.7"/><circle cx="333.1" cy="282.0" r="5.7"/><circle cx="325.4" cy="281.3" r="5.7"/><circle cx="370.3" cy="292.5" r="5.7"/><circle cx="377.3" cy="294.6" r="5.7"/><circle cx="340.1" cy="296.7" r="5.7"/><circle cx="419.5" cy="226.9" r="5.7"/><circle cx="177.0" cy="309.4" r="5.7"/><circle cx="190.9" cy="310.1" r="5.7"/><circle cx="210.9" cy="349.6" r="5.7"/><circle cx="170.3" cy="370.0" r="5.7"/><circle cx="220.5" cy="310.4" r="5.7"/><circle cx="268.9" cy="302.7" r="5.7"/><circle cx="235.9" cy="324.4" r="5.7"/><circle cx="220.5" cy="347.5" r="5.7"/><circle cx="235.2" cy="337.0" r="5.7"/><circle cx="252.0" cy="338.4" r="5.7"/><circle cx="309.5" cy="332.8" r="5.7"/><circle cx="294.1" cy="374.9" r="5.7"/><circle cx="306.7" cy="370.7" r="5.7"/><circle cx="303.9" cy="393.1" r="5.7"/><circle cx="285.7" cy="332.8" r="5.7"/><circle cx="384.0" cy="315.3" r="5.7"/><circle cx="373.1" cy="302.7" r="5.7"/><circle cx="338.7" cy="328.6" r="5.7"/><circle cx="365.4" cy="347.5" r="5.7"/><circle cx="319.1" cy="359.5" r="5.7"/><circle cx="324.0" cy="359.5" r="5.7"/><circle cx="335.2" cy="362.3" r="5.7"/><circle cx="517.5" cy="360.2" r="5.7"/><circle cx="159.1" cy="412.4" r="5.7"/><circle cx="146.9" cy="433.4" r="5.7"/><circle cx="177.3" cy="441.8" r="5.7"/><circle cx="194.8" cy="405.4" r="5.7"/><circle cx="275.9" cy="404.0" r="5.7"/><circle cx="281.5" cy="408.2" r="5.7"/><circle cx="305.3" cy="404.0" r="5.7"/><circle cx="303.9" cy="397.0" r="5.7"/><circle cx="305.3" cy="411.7" r="5.7"/><circle cx="259.1" cy="423.6" r="5.7"/><circle cx="281.5" cy="426.4" r="5.7"/><circle cx="287.1" cy="425.0" r="5.7"/><circle cx="292.7" cy="439.0" r="5.7"/><circle cx="245.0" cy="440.4" r="5.7"/><circle cx="238.0" cy="446.1" r="5.7"/><circle cx="249.2" cy="432.0" r="5.7"/><circle cx="309.3" cy="401.9" r="5.7"/><circle cx="342.2" cy="420.5" r="5.7"/><circle cx="411.7" cy="441.0" r="5.7"/></g>
<g fill="#D95319"><circle cx="228.1" cy="141.3" r="5.7"/><circle cx="268.0" cy="208.6" r="5.7"/><circle cx="369.9" cy="196.4" r="5.7"/><circle cx="174.2" cy="229.8" r="5.7"/><circle cx="171.7" cy="245.1" r="5.7"/><circle cx="256.9" cy="265.9" r="5.7"/><circle cx="284.3" cy="265.9" r="5.7"/><circle cx="271.7" cy="277.8" r="5.7"/><circle cx="309.5" cy="295.3" r="5.7"/><circle cx="237.3" cy="292.5" r="5.7"/><circle cx="314.9" cy="281.3" r="5.7"/><circle cx="317.0" cy="296.7" r="5.7"/><circle cx="352.0" cy="299.5" r="5.7"/><circle cx="211.6" cy="365.8" r="5.7"/><circle cx="214.9" cy="304.8" r="5.7"/><circle cx="289.9" cy="307.6" r="5.7"/><circle cx="302.5" cy="313.2" r="5.7"/><circle cx="303.9" cy="306.2" r="5.7"/><circle cx="263.3" cy="323.0" r="5.7"/><circle cx="270.3" cy="324.4" r="5.7"/><circle cx="294.1" cy="326.5" r="5.7"/><circle cx="301.1" cy="326.5" r="5.7"/><circle cx="247.8" cy="330.0" r="5.7"/><circle cx="214.9" cy="337.0" r="5.7"/><circle cx="285.7" cy="346.1" r="5.7"/><circle cx="278.7" cy="346.8" r="5.7"/><circle cx="268.9" cy="352.5" r="5.7"/><circle cx="254.8" cy="348.9" r="5.7"/><circle cx="217.0" cy="352.5" r="5.7"/><circle cx="298.3" cy="353.9" r="5.7"/><circle cx="264.7" cy="367.9" r="5.7"/><circle cx="273.1" cy="373.5" r="5.7"/><circle cx="359.1" cy="313.9" r="5.7"/><circle cx="364.7" cy="326.5" r="5.7"/><circle cx="319.8" cy="327.2" r="5.7"/><circle cx="343.6" cy="301.3" r="5.7"/><circle cx="342.2" cy="366.5" r="5.7"/><circle cx="359.1" cy="370.7" r="5.7"/><circle cx="400.7" cy="375.2" r="5.7"/><circle cx="333.8" cy="374.2" r="5.7"/><circle cx="367.5" cy="391.7" r="5.7"/><circle cx="321.2" cy="390.3" r="5.7"/><circle cx="521.8" cy="321.1" r="5.7"/><circle cx="179.4" cy="417.3" r="5.7"/><circle cx="187.1" cy="416.6" r="5.7"/><circle cx="164.7" cy="427.1" r="5.7"/><circle cx="189.9" cy="454.5" r="5.7"/><circle cx="206.7" cy="444.6" r="5.7"/><circle cx="194.1" cy="430.6" r="5.7"/><circle cx="271.0" cy="405.4" r="5.7"/><circle cx="289.2" cy="404.0" r="5.7"/><circle cx="261.9" cy="415.2" r="5.7"/><circle cx="204.4" cy="412.4" r="5.7"/><circle cx="326.8" cy="415.9" r="5.7"/></g>
<g fill="#EDB120"><circle cx="239.3" cy="98.1" r="5.7"/><circle cx="263.9" cy="179.5" r="5.7"/><circle cx="207.5" cy="201.1" r="5.7"/><circle cx="283.7" cy="202.7" r="5.7"/><circle cx="323.0" cy="83.9" r="5.7"/><circle cx="405.0" cy="98.1" r="5.7"/><circle cx="354.2" cy="118.3" r="5.7"/><circle cx="247.8" cy="226.2" r="5.7"/><circle cx="275.6" cy="239.7" r="5.7"/><circle cx="247.1" cy="266.6" r="5.7"/><circle cx="232.4" cy="267.0" r="5.7"/><circle cx="231.0" cy="275.7" r="5.7"/><circle cx="288.8" cy="275.7" r="5.7"/><circle cx="311.6" cy="270.1" r="5.7"/><circle cx="277.3" cy="283.4" r="5.7"/><circle cx="265.4" cy="286.2" r="5.7"/><circle cx="252.0" cy="289.7" r="5.7"/><circle cx="208.1" cy="377.7" r="5.7"/><circle cx="260.5" cy="305.5" r="5.7"/><circle cx="266.1" cy="314.6" r="5.7"/><circle cx="283.6" cy="307.6" r="5.7"/><circle cx="221.9" cy="332.8" r="5.7"/><circle cx="226.1" cy="337.0" r="5.7"/><circle cx="235.2" cy="330.0" r="5.7"/><circle cx="274.5" cy="337.0" r="5.7"/><circle cx="251.3" cy="368.6" r="5.7"/><circle cx="211.4" cy="373.5" r="5.7"/><circle cx="217.0" cy="371.4" r="5.7"/><circle cx="310.9" cy="367.9" r="5.7"/><circle cx="312.3" cy="312.5" r="5.7"/><circle cx="273.1" cy="379.1" r="5.7"/><circle cx="289.9" cy="388.9" r="5.7"/><circle cx="281.5" cy="356.7" r="5.7"/><circle cx="340.6" cy="339.6" r="5.7"/><circle cx="342.9" cy="314.6" r="5.7"/><circle cx="344.3" cy="363.0" r="5.7"/><circle cx="305.8" cy="362.3" r="5.7"/><circle cx="168.9" cy="449.6" r="5.7"/><circle cx="166.1" cy="452.4" r="5.7"/><circle cx="170.3" cy="456.6" r="5.7"/><circle cx="184.3" cy="444.6" r="5.7"/><circle cx="210.9" cy="434.8" r="5.7"/><circle cx="196.9" cy="411.7" r="5.7"/><circle cx="264.7" cy="406.8" r="5.7"/><circle cx="284.3" cy="397.0" r="5.7"/><circle cx="211.4" cy="429.2" r="5.7"/><circle cx="219.8" cy="432.0" r="5.7"/><circle cx="205.8" cy="425.0" r="5.7"/><circle cx="224.0" cy="446.1" r="5.7"/><circle cx="261.9" cy="443.9" r="5.7"/><circle cx="282.9" cy="448.2" r="5.7"/><circle cx="285.7" cy="458.0" r="5.7"/><circle cx="242.9" cy="458.0" r="5.7"/><circle cx="287.1" cy="417.3" r="5.7"/><circle cx="312.1" cy="423.6" r="5.7"/></g>
<g fill="#7E2F8E"><circle cx="231.5" cy="151.7" r="5.7"/><circle cx="275.5" cy="158.9" r="5.7"/><circle cx="256.9" cy="229.7" r="5.7"/><circle cx="266.8" cy="229.7" r="5.7"/><circle cx="228.9" cy="253.9" r="5.7"/><circle cx="281.5" cy="298.1" r="5.7"/><circle cx="320.5" cy="273.6" r="5.7"/><circle cx="349.2" cy="276.4" r="5.7"/><circle cx="365.6" cy="286.9" r="5.7"/><circle cx="345.0" cy="298.1" r="5.7"/><circle cx="200.0" cy="356.2" r="5.7"/><circle cx="182.6" cy="378.4" r="5.7"/><circle cx="191.3" cy="385.8" r="5.7"/><circle cx="231.0" cy="303.4" r="5.7"/><circle cx="226.1" cy="325.1" r="5.7"/><circle cx="238.7" cy="312.5" r="5.7"/><circle cx="253.4" cy="303.4" r="5.7"/><circle cx="229.6" cy="352.5" r="5.7"/><circle cx="236.6" cy="353.9" r="5.7"/><circle cx="258.4" cy="355.3" r="5.7"/><circle cx="226.1" cy="372.8" r="5.7"/><circle cx="236.6" cy="373.5" r="5.7"/><circle cx="308.8" cy="381.2" r="5.7"/><circle cx="288.5" cy="337.0" r="5.7"/><circle cx="282.9" cy="325.1" r="5.7"/><circle cx="350.4" cy="325.1" r="5.7"/><circle cx="325.4" cy="313.9" r="5.7"/><circle cx="328.9" cy="302.7" r="5.7"/><circle cx="315.6" cy="339.1" r="5.7"/><circle cx="247.8" cy="399.8" r="5.7"/><circle cx="255.5" cy="402.6" r="5.7"/><circle cx="243.6" cy="416.6" r="5.7"/><circle cx="240.1" cy="433.4" r="5.7"/><circle cx="230.3" cy="439.0" r="5.7"/><circle cx="217.7" cy="458.0" r="5.7"/><circle cx="224.0" cy="458.0" r="5.7"/><circle cx="394.1" cy="416.2" r="5.7"/></g>
<g fill="#77AC30"><circle cx="262.3" cy="95.5" r="5.7"/><circle cx="270.5" cy="260.5" r="5.7"/><circle cx="214.9" cy="276.8" r="5.7"/><circle cx="281.5" cy="291.1" r="5.7"/><circle cx="305.3" cy="283.4" r="5.7"/><circle cx="311.6" cy="285.5" r="5.7"/><circle cx="216.3" cy="293.2" r="5.7"/><circle cx="316.3" cy="288.3" r="5.7"/><circle cx="406.7" cy="278.9" r="5.7"/><circle cx="190.9" cy="344.3" r="5.7"/><circle cx="170.3" cy="376.0" r="5.7"/><circle cx="179.4" cy="393.8" r="5.7"/><circle cx="398.3" cy="314.6" r="5.7"/><circle cx="363.3" cy="334.2" r="5.7"/><circle cx="339.2" cy="353.9" r="5.7"/><circle cx="304.4" cy="353.9" r="5.7"/><circle cx="387.5" cy="367.9" r="5.7"/><circle cx="358.8" cy="386.1" r="5.7"/><circle cx="162.6" cy="413.1" r="5.7"/><circle cx="168.2" cy="417.3" r="5.7"/><circle cx="149.9" cy="448.2" r="5.7"/><circle cx="178.7" cy="451.7" r="5.7"/><circle cx="201.1" cy="401.9" r="5.7"/><circle cx="196.9" cy="417.3" r="5.7"/><circle cx="210.9" cy="408.2" r="5.7"/><circle cx="188.5" cy="433.4" r="5.7"/><circle cx="394.1" cy="430.4" r="5.7"/></g>
<g fill="#4DBEEE"><circle cx="359.1" cy="153.2" r="5.7"/><circle cx="405.0" cy="164.2" r="5.7"/><circle cx="289.6" cy="214.4" r="5.7"/><circle cx="294.1" cy="282.0" r="5.7"/><circle cx="263.3" cy="291.8" r="5.7"/><circle cx="272.4" cy="290.4" r="5.7"/><circle cx="332.4" cy="270.8" r="5.7"/><circle cx="340.8" cy="270.1" r="5.7"/><circle cx="365.1" cy="272.9" r="5.7"/><circle cx="324.0" cy="289.0" r="5.7"/><circle cx="434.5" cy="296.0" r="5.7"/><circle cx="206.0" cy="366.5" r="5.7"/><circle cx="187.8" cy="394.5" r="5.7"/><circle cx="278.7" cy="323.7" r="5.7"/><circle cx="243.6" cy="335.6" r="5.7"/><circle cx="287.1" cy="340.5" r="5.7"/><circle cx="246.4" cy="351.1" r="5.7"/><circle cx="301.1" cy="390.3" r="5.7"/><circle cx="292.7" cy="348.2" r="5.7"/><circle cx="309.5" cy="309.0" r="5.7"/><circle cx="380.8" cy="307.3" r="5.7"/><circle cx="320.5" cy="350.4" r="5.7"/><circle cx="180.8" cy="404.7" r="5.7"/><circle cx="164.0" cy="445.4" r="5.7"/><circle cx="202.5" cy="439.7" r="5.7"/><circle cx="319.5" cy="419.8" r="5.7"/></g>
<g fill="#A2142F"><circle cx="197.6" cy="257.5" r="5.7"/><circle cx="205.3" cy="292.5" r="5.7"/><circle cx="209.5" cy="355.5" r="5.7"/><circle cx="199.7" cy="381.2" r="5.7"/><circle cx="238.0" cy="304.8" r="5.7"/><circle cx="249.9" cy="309.0" r="5.7"/><circle cx="327.5" cy="331.7" r="5.7"/><circle cx="333.5" cy="317.4" r="5.7"/><circle cx="427.5" cy="395.5" r="5.7"/><circle cx="415.6" cy="409.1" r="5.7"/><circle cx="171.7" cy="399.1" r="5.7"/><circle cx="185.7" cy="407.5" r="5.7"/><circle cx="172.4" cy="423.6" r="5.7"/><circle cx="178.7" cy="428.5" r="5.7"/><circle cx="273.1" cy="439.7" r="5.7"/><circle cx="304.6" cy="432.7" r="5.7"/><circle cx="254.8" cy="415.9" r="5.7"/><circle cx="205.1" cy="420.1" r="5.7"/><circle cx="326.1" cy="433.7" r="5.7"/></g>
<g fill="#0072BD"><circle cx="220.5" cy="272.2" r="5.7"/><circle cx="200.4" cy="385.4" r="5.7"/><circle cx="330.3" cy="381.9" r="5.7"/><circle cx="331.0" cy="387.5" r="5.7"/><circle cx="312.1" cy="387.5" r="5.7"/><circle cx="413.2" cy="416.3" r="5.7"/><circle cx="280.1" cy="435.5" r="5.7"/><circle cx="307.4" cy="428.5" r="5.7"/><circle cx="323.3" cy="409.6" r="5.7"/><circle cx="316.3" cy="430.6" r="5.7"/></g>
<g fill="#D95319"><circle cx="340.6" cy="280.2" r="5.7"/><circle cx="183.6" cy="370.2" r="5.7"/><circle cx="202.5" cy="390.3" r="5.7"/></g>
<g fill="#EDB120"><circle cx="259.5" cy="248.8" r="5.7"/><circle cx="244.3" cy="318.1" r="5.7"/><circle cx="252.0" cy="326.5" r="5.7"/><circle cx="259.1" cy="330.7" r="5.7"/><circle cx="266.8" cy="331.4" r="5.7"/><circle cx="240.1" cy="344.7" r="5.7"/><circle cx="247.1" cy="344.0" r="5.7"/><circle cx="316.6" cy="312.5" r="5.7"/><circle cx="161.2" cy="427.8" r="5.7"/><circle cx="200.4" cy="456.6" r="5.7"/><circle cx="203.2" cy="429.2" r="5.7"/><circle cx="215.1" cy="433.2" r="5.7"/><circle cx="223.5" cy="440.3" r="5.7"/><circle cx="209.5" cy="440.3" r="5.7"/></g>
<g fill="#7E2F8E"><circle cx="347.3" cy="116.9" r="5.7"/><circle cx="243.6" cy="244.6" r="5.7"/><circle cx="275.6" cy="249.3" r="5.7"/><circle cx="203.9" cy="455.2" r="5.7"/><circle cx="248.5" cy="455.2" r="5.7"/><circle cx="272.4" cy="447.5" r="5.7"/><circle cx="306.4" cy="443.0" r="5.7"/><circle cx="319.5" cy="435.1" r="5.7"/></g>
<g fill="#77AC30"><circle cx="255.1" cy="282.7" r="5.7"/><circle cx="256.2" cy="296.7" r="5.7"/><circle cx="268.9" cy="296.7" r="5.7"/><circle cx="319.5" cy="253.9" r="5.7"/><circle cx="384.0" cy="262.6" r="5.7"/><circle cx="327.5" cy="293.9" r="5.7"/><circle cx="335.9" cy="298.8" r="5.7"/><circle cx="205.6" cy="324.1" r="5.7"/><circle cx="210.9" cy="386.1" r="5.7"/><circle cx="244.8" cy="304.1" r="5.7"/><circle cx="258.8" cy="314.6" r="5.7"/><circle cx="277.3" cy="311.1" r="5.7"/><circle cx="291.6" cy="319.9" r="5.7"/><circle cx="310.9" cy="322.3" r="5.7"/><circle cx="221.6" cy="319.5" r="5.7"/><circle cx="230.3" cy="342.4" r="5.7"/><circle cx="268.9" cy="340.5" r="5.7"/><circle cx="265.4" cy="344.7" r="5.7"/><circle cx="276.6" cy="351.1" r="5.7"/><circle cx="276.6" cy="357.4" r="5.7"/><circle cx="301.4" cy="339.1" r="5.7"/><circle cx="308.8" cy="352.5" r="5.7"/><circle cx="270.3" cy="364.4" r="5.7"/><circle cx="258.4" cy="363.7" r="5.7"/><circle cx="246.4" cy="361.6" r="5.7"/><circle cx="238.7" cy="365.1" r="5.7"/><circle cx="231.0" cy="361.6" r="5.7"/><circle cx="223.3" cy="363.7" r="5.7"/><circle cx="249.2" cy="374.9" r="5.7"/><circle cx="285.7" cy="368.6" r="5.7"/><circle cx="296.9" cy="367.9" r="5.7"/><circle cx="294.1" cy="363.7" r="5.7"/><circle cx="284.3" cy="379.1" r="5.7"/><circle cx="215.6" cy="381.9" r="5.7"/><circle cx="225.4" cy="381.9" r="5.7"/><circle cx="221.2" cy="390.3" r="5.7"/><circle cx="231.0" cy="387.5" r="5.7"/><circle cx="239.4" cy="384.7" r="5.7"/><circle cx="261.9" cy="377.7" r="5.7"/><circle cx="256.2" cy="384.7" r="5.7"/><circle cx="266.1" cy="386.1" r="5.7"/><circle cx="275.9" cy="386.1" r="5.7"/><circle cx="282.9" cy="387.5" r="5.7"/><circle cx="249.2" cy="391.7" r="5.7"/><circle cx="273.1" cy="393.1" r="5.7"/><circle cx="359.8" cy="349.6" r="5.7"/><circle cx="318.4" cy="368.6" r="5.7"/><circle cx="326.1" cy="367.9" r="5.7"/><circle cx="422.0" cy="419.3" r="5.7"/><circle cx="209.5" cy="394.2" r="5.7"/><circle cx="210.0" cy="398.4" r="5.7"/><circle cx="218.4" cy="404.0" r="5.7"/><circle cx="226.8" cy="408.2" r="5.7"/><circle cx="235.2" cy="411.0" r="5.7"/><circle cx="243.6" cy="405.4" r="5.7"/><circle cx="251.3" cy="408.2" r="5.7"/><circle cx="236.6" cy="399.8" r="5.7"/><circle cx="249.2" cy="397.0" r="5.7"/><circle cx="259.1" cy="392.8" r="5.7"/><circle cx="268.9" cy="392.1" r="5.7"/><circle cx="278.7" cy="392.1" r="5.7"/><circle cx="214.2" cy="420.1" r="5.7"/><circle cx="225.4" cy="420.1" r="5.7"/><circle cx="235.9" cy="425.7" r="5.7"/><circle cx="248.5" cy="421.9" r="5.7"/><circle cx="217.0" cy="412.4" r="5.7"/><circle cx="228.2" cy="398.4" r="5.7"/><circle cx="205.8" cy="405.4" r="5.7"/><circle cx="275.9" cy="415.9" r="5.7"/><circle cx="255.5" cy="434.8" r="5.7"/><circle cx="261.9" cy="432.7" r="5.7"/><circle cx="268.9" cy="428.5" r="5.7"/><circle cx="263.3" cy="450.3" r="5.7"/><circle cx="231.0" cy="456.6" r="5.7"/><circle cx="220.7" cy="396.8" r="5.7"/><circle cx="231.9" cy="402.4" r="5.7"/><circle cx="215.1" cy="408.0" r="5.7"/><circle cx="226.3" cy="413.6" r="5.7"/><circle cx="237.5" cy="408.0" r="5.7"/><circle cx="209.5" cy="416.4" r="5.7"/><circle cx="220.7" cy="419.2" r="5.7"/><circle cx="234.7" cy="422.0" r="5.7"/><circle cx="243.1" cy="396.8" r="5.7"/></g>
<path d="M102.5 487.5L567.3 167.3" stroke="#fb0a12" stroke-width="3" fill="none"/>
</g>
<rect x="590.9" y="44.6" width="196.10000000000002" height="452.9" fill="#fff"/>
<circle cx="657.1" cy="69.5" r="9.2" fill="#0072BD"/>
<text x="712.6" y="80.3" font-size="29.3" font-family="'Liberation Serif', serif" fill="#1c1c1c">01-08</text>
<circle cx="657.1" cy="106.1" r="9.2" fill="#D95319"/>
<text x="712.6" y="116.9" font-size="29.3" font-family="'Liberation Serif', serif" fill="#1c1c1c">01-17</text>
<circle cx="657.1" cy="142.8" r="9.2" fill="#EDB120"/>
<text x="712.6" y="153.6" font-size="29.3" font-family="'Liberation Serif', serif" fill="#1c1c1c">04-16</text>
<circle cx="657.1" cy="179.4" r="9.2" fill="#7E2F8E"/>
<text x="712.6" y="190.2" font-size="29.3" font-family="'Liberation Serif', serif" fill="#1c1c1c">05-16</text>
<circle cx="657.1" cy="216.0" r="9.2" fill="#77AC30"/>
<text x="712.6" y="226.8" font-size="29.3" font-family="'Liberation Serif', serif" fill="#1c1c1c">08-08</text>
<circle cx="657.1" cy="252.7" r="9.2" fill="#4DBEEE"/>
<text x="712.6" y="263.4" font-size="29.3" font-family="'Liberation Serif', serif" fill="#1c1c1c">09-08</text>
<circle cx="657.1" cy="289.3" r="9.2" fill="#A2142F"/>
<text x="712.6" y="300.1" font-size="29.3" font-family="'Liberation Serif', serif" fill="#1c1c1c">09-17</text>
<circle cx="657.1" cy="325.9" r="9.2" fill="#0072BD"/>
<text x="712.6" y="336.7" font-size="29.3" font-family="'Liberation Serif', serif" fill="#1c1c1c">11-08</text>
<circle cx="657.1" cy="362.5" r="9.2" fill="#D95319"/>
<text x="712.6" y="373.3" font-size="29.3" font-family="'Liberation Serif', serif" fill="#1c1c1c">12-16</text>
<circle cx="657.1" cy="399.2" r="9.2" fill="#EDB120"/>
<text x="712.6" y="410.0" font-size="29.3" font-family="'Liberation Serif', serif" fill="#1c1c1c">13-16</text>
<circle cx="657.1" cy="435.8" r="9.2" fill="#7E2F8E"/>
<text x="712.6" y="446.6" font-size="29.3" font-family="'Liberation Serif', serif" fill="#1c1c1c">14-09</text>
<circle cx="657.1" cy="472.4" r="9.2" fill="#77AC30"/>
<text x="712.6" y="483.2" font-size="29.3" font-family="'Liberation Serif', serif" fill="#1c1c1c">16-08</text>
<path d="M102.5 11.700000000000001V546.8H722.9000000000001" stroke="#262626" stroke-width="1.9" fill="none"/>
<path d="M102.50 546.8v-7M257.43 546.8v-7M412.35 546.8v-7M567.28 546.8v-7M722.20 546.8v-7M102.5 12.40h7M102.5 101.47h7M102.5 190.53h7M102.5 279.60h7M102.5 368.67h7M102.5 457.73h7M102.5 546.80h7" stroke="#262626" stroke-width="1.8" fill="none"/>
<text x="102.5" y="590.5" font-size="34.3" text-anchor="middle" font-family="'Liberation Serif', serif" fill="#1c1c1c">0</text>
<text x="257.4" y="590.5" font-size="34.3" text-anchor="middle" font-family="'Liberation Serif', serif" fill="#1c1c1c">10</text>
<text x="412.4" y="590.5" font-size="34.3" text-anchor="middle" font-family="'Liberation Serif', serif" fill="#1c1c1c">20</text>
<text x="567.3" y="590.5" font-size="34.3" text-anchor="middle" font-family="'Liberation Serif', serif" fill="#1c1c1c">30</text>
<text x="722.2" y="590.5" font-size="34.3" text-anchor="middle" font-family="'Liberation Serif', serif" fill="#1c1c1c">40</text>
<text x="88.8" y="25.0" font-size="34.3" text-anchor="end" font-family="'Liberation Serif', serif" fill="#1c1c1c">50</text>
<text x="88.8" y="114.1" font-size="34.3" text-anchor="end" font-family="'Liberation Serif', serif" fill="#1c1c1c">40</text>
<text x="88.8" y="203.1" font-size="34.3" text-anchor="end" font-family="'Liberation Serif', serif" fill="#1c1c1c">30</text>
<text x="88.8" y="292.2" font-size="34.3" text-anchor="end" font-family="'Liberation Serif', serif" fill="#1c1c1c">20</text>
<text x="88.8" y="381.3" font-size="34.3" text-anchor="end" font-family="'Liberation Serif', serif" fill="#1c1c1c">10</text>
<text x="88.8" y="470.3" font-size="34.3" text-anchor="end" font-family="'Liberation Serif', serif" fill="#1c1c1c">0</text>
<text x="88.8" y="559.4" font-size="34.3" text-anchor="end" font-family="'Liberation Serif', serif" fill="#1c1c1c">-10</text>
<text x="411.5" y="634.8" font-size="36.6" text-anchor="middle" font-family="'Liberation Serif', serif" fill="#1c1c1c">Inverted porosity (%)</text>
<text transform="translate(27.1 279.6) rotate(-90)" font-size="36.0" text-anchor="middle" font-family="'Liberation Serif', serif" fill="#1c1c1c">Actual porosity (%)</text>
<text x="108.6" y="527.2" font-size="38.8" font-weight="bold" font-family="'Liberation Serif', serif" fill="#111">(a)</text>
<text x="163" y="61.8" font-size="36" font-family="'Liberation Serif', serif" fill="#111">r<tspan dy="-17.3" font-size="27.5">2</tspan><tspan dy="17.3" dx="0.5"> = 0.56</tspan></text>
<path d="M119.12 718.90V1273.7M134.94 718.90V1273.7M150.75 718.90V1273.7M166.57 718.90V1273.7M182.39 718.90V1273.7M198.20 718.90V1273.7M214.02 718.90V1273.7M229.84 718.90V1273.7M245.66 718.90V1273.7M277.29 718.90V1273.7M293.11 718.90V1273.7M308.93 718.90V1273.7M324.75 718.90V1273.7M340.56 718.90V1273.7M356.38 718.90V1273.7M372.20 718.90V1273.7M388.02 718.90V1273.7M403.83 718.90V1273.7M435.47 718.90V1273.7M451.29 718.90V1273.7M467.10 718.90V1273.7M482.92 718.90V1273.7M498.74 718.90V1273.7M514.55 718.90V1273.7M530.37 718.90V1273.7M546.19 718.90V1273.7M562.01 718.90V1273.7M593.64 718.90V1273.7M609.46 718.90V1273.7M625.28 718.90V1273.7M641.10 718.90V1273.7M656.91 718.90V1273.7M672.73 718.90V1273.7M688.55 718.90V1273.7M704.37 718.90V1273.7M720.18 718.90V1273.7" stroke="#7c7c7c" stroke-width="1.3" stroke-dasharray="1.3 2.409" fill="none"/>
<path d="M105.80 728.53H736.0M105.80 739.65H736.0M105.80 750.78H736.0M105.80 761.90H736.0M105.80 773.03H736.0M105.80 784.16H736.0M105.80 795.28H736.0M105.80 806.41H736.0M105.80 817.53H736.0M105.80 839.79H736.0M105.80 850.91H736.0M105.80 862.04H736.0M105.80 873.16H736.0M105.80 884.29H736.0M105.80 895.42H736.0M105.80 906.54H736.0M105.80 917.67H736.0M105.80 928.79H736.0M105.80 951.05H736.0M105.80 962.17H736.0M105.80 973.30H736.0M105.80 984.42H736.0M105.80 995.55H736.0M105.80 1006.68H736.0M105.80 1017.80H736.0M105.80 1028.93H736.0M105.80 1040.05H736.0M105.80 1062.31H736.0M105.80 1073.43H736.0M105.80 1084.56H736.0M105.80 1095.68H736.0M105.80 1106.81H736.0M105.80 1117.94H736.0M105.80 1129.06H736.0M105.80 1140.19H736.0M105.80 1151.31H736.0M105.80 1173.57H736.0M105.80 1184.69H736.0M105.80 1195.82H736.0M105.80 1206.94H736.0M105.80 1218.07H736.0M105.80 1229.20H736.0M105.80 1240.32H736.0M105.80 1251.45H736.0M105.80 1262.57H736.0" stroke="#7c7c7c" stroke-width="1.3" stroke-dasharray="1.3 3.219" fill="none"/>
<path d="M103.30 717.4V1273.7M261.48 717.4V1273.7M419.65 717.4V1273.7M577.83 717.4V1273.7M736.00 717.4V1273.7M103.3 717.40H736.0M103.3 828.66H736.0M103.3 939.92H736.0M103.3 1051.18H736.0M103.3 1162.44H736.0M103.3 1273.70H736.0" stroke="#d3d3d3" stroke-width="1.3" fill="none"/>
<clipPath id="clipb"><rect x="103.3" y="709.4" width="640.7" height="572.3000000000001"/></clipPath>
<g clip-path="url(#clipb)">
<g fill="#0072BD"><circle cx="258.3" cy="1043.5" r="5.8"/></g>
<g fill="#7E2F8E"><circle cx="264.8" cy="1038.0" r="5.8"/></g>
<g fill="#EDB120"><circle cx="267.2" cy="1040.9" r="5.8"/></g>
<g fill="#0072BD"><circle cx="271.9" cy="1042.0" r="5.8"/></g>
<g fill="#7E2F8E"><circle cx="276.2" cy="1026.3" r="5.8"/></g>
<g fill="#EDB120"><circle cx="283.5" cy="1008.5" r="5.8"/></g>
<g fill="#0072BD"><circle cx="281.3" cy="1015.8" r="5.8"/></g>
<g fill="#D95319"><circle cx="284.6" cy="981.6" r="5.8"/></g>
<g fill="#EDB120"><circle cx="291.0" cy="988.3" r="5.8"/></g>
<g fill="#0072BD"><circle cx="291.7" cy="1085.6" r="5.8"/></g>
<g fill="#EDB120"><circle cx="295.8" cy="1085.2" r="5.8"/></g>
<g fill="#0072BD"><circle cx="303.5" cy="1082.4" r="5.8"/></g>
<g fill="#7E2F8E"><circle cx="308.1" cy="1077.9" r="5.8"/></g>
<g fill="#77AC30"><circle cx="308.1" cy="1092.8" r="5.8"/></g>
<g fill="#A2142F"><circle cx="310.9" cy="1073.6" r="5.8"/></g>
<g fill="#7E2F8E"><circle cx="315.1" cy="967.7" r="5.8"/></g>
<g fill="#EDB120"><circle cx="316.3" cy="1016.8" r="5.8"/></g>
<g fill="#77AC30"><circle cx="318.2" cy="1021.7" r="5.8"/></g>
<g fill="#4DBEEE"><circle cx="315.9" cy="1028.2" r="5.8"/><circle cx="316.3" cy="1057.0" r="5.8"/></g>
<g fill="#0072BD"><circle cx="317.4" cy="1061.6" r="5.8"/><circle cx="320.8" cy="957.5" r="5.8"/></g>
<g fill="#4DBEEE"><circle cx="323.1" cy="965.8" r="5.8"/></g>
<g fill="#7E2F8E"><circle cx="320.7" cy="973.5" r="5.8"/><circle cx="321.5" cy="981.8" r="5.8"/></g>
<g fill="#0072BD"><circle cx="321.9" cy="985.9" r="5.8"/></g>
<g fill="#7E2F8E"><circle cx="321.5" cy="1018.4" r="5.8"/><circle cx="319.8" cy="1023.0" r="5.8"/><circle cx="323.1" cy="1025.5" r="5.8"/></g>
<g fill="#D95319"><circle cx="319.7" cy="1032.3" r="5.8"/></g>
<g fill="#0072BD"><circle cx="320.4" cy="1043.2" r="5.8"/></g>
<g fill="#D95319"><circle cx="321.6" cy="1078.1" r="5.8"/><circle cx="325.3" cy="953.2" r="5.8"/><circle cx="327.4" cy="954.8" r="5.8"/></g>
<g fill="#0072BD"><circle cx="325.2" cy="962.4" r="5.8"/></g>
<g fill="#7E2F8E"><circle cx="328.3" cy="964.8" r="5.8"/></g>
<g fill="#77AC30"><circle cx="324.6" cy="970.7" r="5.8"/></g>
<g fill="#7E2F8E"><circle cx="325.1" cy="975.4" r="5.8"/></g>
<g fill="#A2142F"><circle cx="326.0" cy="979.9" r="5.8"/></g>
<g fill="#D95319"><circle cx="325.1" cy="984.8" r="5.8"/></g>
<g fill="#0072BD"><circle cx="327.0" cy="997.7" r="5.8"/></g>
<g fill="#EDB120"><circle cx="325.8" cy="1009.8" r="5.8"/></g>
<g fill="#4DBEEE"><circle cx="327.6" cy="1017.7" r="5.8"/></g>
<g fill="#7E2F8E"><circle cx="327.5" cy="1028.1" r="5.8"/><circle cx="326.4" cy="1030.6" r="5.8"/></g>
<g fill="#EDB120"><circle cx="325.8" cy="1050.1" r="5.8"/><circle cx="328.0" cy="1055.2" r="5.8"/></g>
<g fill="#0072BD"><circle cx="331.1" cy="946.8" r="5.8"/></g>
<g fill="#EDB120"><circle cx="333.3" cy="950.7" r="5.8"/><circle cx="331.2" cy="954.8" r="5.8"/></g>
<g fill="#0072BD"><circle cx="330.1" cy="959.9" r="5.8"/></g>
<g fill="#7E2F8E"><circle cx="330.1" cy="970.1" r="5.8"/></g>
<g fill="#4DBEEE"><circle cx="331.5" cy="983.6" r="5.8"/></g>
<g fill="#EDB120"><circle cx="333.5" cy="985.6" r="5.8"/></g>
<g fill="#7E2F8E"><circle cx="330.5" cy="992.1" r="5.8"/></g>
<g fill="#D95319"><circle cx="332.7" cy="997.5" r="5.8"/></g>
<g fill="#0072BD"><circle cx="331.2" cy="1001.8" r="5.8"/><circle cx="329.6" cy="1006.3" r="5.8"/><circle cx="332.4" cy="1020.7" r="5.8"/><circle cx="330.2" cy="1025.6" r="5.8"/></g>
<g fill="#D95319"><circle cx="331.6" cy="1046.6" r="5.8"/></g>
<g fill="#4DBEEE"><circle cx="332.1" cy="1050.5" r="5.8"/></g>
<g fill="#EDB120"><circle cx="333.4" cy="1062.6" r="5.8"/></g>
<g fill="#0072BD"><circle cx="336.5" cy="957.0" r="5.8"/><circle cx="336.2" cy="986.8" r="5.8"/></g>
<g fill="#D95319"><circle cx="334.9" cy="997.9" r="5.8"/></g>
<g fill="#EDB120"><circle cx="336.6" cy="1008.4" r="5.8"/></g>
<g fill="#D95319"><circle cx="335.7" cy="1058.6" r="5.8"/></g>
<g fill="#0072BD"><circle cx="334.6" cy="1122.4" r="5.8"/></g>
<g fill="#7E2F8E"><circle cx="340.7" cy="933.1" r="5.8"/></g>
<g fill="#D95319"><circle cx="339.6" cy="936.5" r="5.8"/></g>
<g fill="#EDB120"><circle cx="341.4" cy="940.5" r="5.8"/></g>
<g fill="#D95319"><circle cx="339.8" cy="945.8" r="5.8"/></g>
<g fill="#7E2F8E"><circle cx="343.2" cy="955.0" r="5.8"/></g>
<g fill="#D95319"><circle cx="340.3" cy="982.0" r="5.8"/><circle cx="341.4" cy="987.7" r="5.8"/></g>
<g fill="#0072BD"><circle cx="340.0" cy="990.2" r="5.8"/></g>
<g fill="#A2142F"><circle cx="342.9" cy="997.3" r="5.8"/></g>
<g fill="#7E2F8E"><circle cx="342.3" cy="999.8" r="5.8"/></g>
<g fill="#EDB120"><circle cx="342.6" cy="1007.6" r="5.8"/></g>
<g fill="#77AC30"><circle cx="340.9" cy="1046.5" r="5.8"/></g>
<g fill="#EDB120"><circle cx="340.6" cy="1056.8" r="5.8"/></g>
<g fill="#4DBEEE"><circle cx="343.3" cy="1062.9" r="5.8"/></g>
<g fill="#0072BD"><circle cx="342.8" cy="1065.9" r="5.8"/></g>
<g fill="#D95319"><circle cx="341.5" cy="1075.7" r="5.8"/></g>
<g fill="#EDB120"><circle cx="342.2" cy="1083.4" r="5.8"/></g>
<g fill="#D95319"><circle cx="342.8" cy="1085.1" r="5.8"/><circle cx="348.5" cy="925.3" r="5.8"/></g>
<g fill="#4DBEEE"><circle cx="344.8" cy="940.0" r="5.8"/></g>
<g fill="#0072BD"><circle cx="348.5" cy="957.3" r="5.8"/></g>
<g fill="#7E2F8E"><circle cx="345.7" cy="980.6" r="5.8"/></g>
<g fill="#EDB120"><circle cx="347.2" cy="1001.5" r="5.8"/></g>
<g fill="#4DBEEE"><circle cx="344.9" cy="1006.9" r="5.8"/></g>
<g fill="#EDB120"><circle cx="347.5" cy="1035.1" r="5.8"/></g>
<g fill="#4DBEEE"><circle cx="347.4" cy="1050.7" r="5.8"/></g>
<g fill="#D95319"><circle cx="346.3" cy="1057.5" r="5.8"/></g>
<g fill="#EDB120"><circle cx="348.5" cy="1062.8" r="5.8"/></g>
<g fill="#0072BD"><circle cx="345.1" cy="1066.5" r="5.8"/><circle cx="346.9" cy="1083.2" r="5.8"/></g>
<g fill="#D95319"><circle cx="346.5" cy="1086.6" r="5.8"/></g>
<g fill="#7E2F8E"><circle cx="352.3" cy="968.4" r="5.8"/></g>
<g fill="#D95319"><circle cx="351.4" cy="973.5" r="5.8"/></g>
<g fill="#7E2F8E"><circle cx="352.5" cy="997.3" r="5.8"/><circle cx="352.9" cy="1065.6" r="5.8"/></g>
<g fill="#A2142F"><circle cx="351.1" cy="1072.4" r="5.8"/></g>
<g fill="#EDB120"><circle cx="352.0" cy="1074.7" r="5.8"/></g>
<g fill="#7E2F8E"><circle cx="352.3" cy="1083.2" r="5.8"/></g>
<g fill="#4DBEEE"><circle cx="352.8" cy="1084.8" r="5.8"/><circle cx="352.4" cy="1097.1" r="5.8"/></g>
<g fill="#77AC30"><circle cx="358.0" cy="960.1" r="5.8"/></g>
<g fill="#7E2F8E"><circle cx="357.6" cy="965.5" r="5.8"/></g>
<g fill="#77AC30"><circle cx="356.8" cy="970.5" r="5.8"/></g>
<g fill="#EDB120"><circle cx="355.1" cy="987.1" r="5.8"/><circle cx="355.5" cy="997.0" r="5.8"/></g>
<g fill="#0072BD"><circle cx="355.3" cy="1003.6" r="5.8"/></g>
<g fill="#77AC30"><circle cx="354.5" cy="1031.6" r="5.8"/></g>
<g fill="#EDB120"><circle cx="357.1" cy="1037.7" r="5.8"/></g>
<g fill="#D95319"><circle cx="357.2" cy="1041.0" r="5.8"/></g>
<g fill="#0072BD"><circle cx="356.5" cy="1049.8" r="5.8"/></g>
<g fill="#7E2F8E"><circle cx="357.5" cy="1065.4" r="5.8"/><circle cx="357.6" cy="1071.3" r="5.8"/></g>
<g fill="#0072BD"><circle cx="357.6" cy="1078.2" r="5.8"/></g>
<g fill="#EDB120"><circle cx="355.2" cy="1086.2" r="5.8"/><circle cx="360.7" cy="954.7" r="5.8"/><circle cx="363.4" cy="961.2" r="5.8"/></g>
<g fill="#4DBEEE"><circle cx="361.0" cy="966.5" r="5.8"/></g>
<g fill="#EDB120"><circle cx="360.7" cy="977.3" r="5.8"/></g>
<g fill="#0072BD"><circle cx="361.7" cy="983.4" r="5.8"/></g>
<g fill="#7E2F8E"><circle cx="362.8" cy="985.9" r="5.8"/></g>
<g fill="#D95319"><circle cx="362.7" cy="992.3" r="5.8"/></g>
<g fill="#7E2F8E"><circle cx="362.9" cy="995.1" r="5.8"/></g>
<g fill="#77AC30"><circle cx="361.1" cy="1001.8" r="5.8"/></g>
<g fill="#D95319"><circle cx="362.7" cy="1017.2" r="5.8"/></g>
<g fill="#0072BD"><circle cx="360.4" cy="1021.5" r="5.8"/><circle cx="360.6" cy="1028.5" r="5.8"/></g>
<g fill="#D95319"><circle cx="362.8" cy="1031.2" r="5.8"/></g>
<g fill="#EDB120"><circle cx="360.8" cy="1035.0" r="5.8"/></g>
<g fill="#D95319"><circle cx="360.2" cy="1041.5" r="5.8"/></g>
<g fill="#EDB120"><circle cx="363.1" cy="1068.4" r="5.8"/></g>
<g fill="#D95319"><circle cx="362.1" cy="1073.4" r="5.8"/></g>
<g fill="#0072BD"><circle cx="359.9" cy="1075.7" r="5.8"/></g>
<g fill="#D95319"><circle cx="362.2" cy="1081.2" r="5.8"/></g>
<g fill="#77AC30"><circle cx="367.7" cy="955.6" r="5.8"/><circle cx="367.0" cy="961.3" r="5.8"/></g>
<g fill="#4DBEEE"><circle cx="365.9" cy="968.2" r="5.8"/><circle cx="366.5" cy="977.5" r="5.8"/><circle cx="367.5" cy="982.7" r="5.8"/></g>
<g fill="#A2142F"><circle cx="368.2" cy="987.7" r="5.8"/></g>
<g fill="#7E2F8E"><circle cx="365.7" cy="992.2" r="5.8"/></g>
<g fill="#0072BD"><circle cx="366.0" cy="996.3" r="5.8"/></g>
<g fill="#EDB120"><circle cx="368.3" cy="1001.1" r="5.8"/></g>
<g fill="#A2142F"><circle cx="368.1" cy="1005.4" r="5.8"/></g>
<g fill="#D95319"><circle cx="365.0" cy="1009.8" r="5.8"/></g>
<g fill="#4DBEEE"><circle cx="365.9" cy="1018.4" r="5.8"/></g>
<g fill="#EDB120"><circle cx="367.5" cy="1021.4" r="5.8"/></g>
<g fill="#D95319"><circle cx="365.4" cy="1028.0" r="5.8"/></g>
<g fill="#0072BD"><circle cx="365.6" cy="1032.3" r="5.8"/><circle cx="365.8" cy="1038.4" r="5.8"/></g>
<g fill="#D95319"><circle cx="370.1" cy="930.5" r="5.8"/><circle cx="371.2" cy="935.7" r="5.8"/></g>
<g fill="#EDB120"><circle cx="370.5" cy="945.7" r="5.8"/></g>
<g fill="#77AC30"><circle cx="370.8" cy="951.2" r="5.8"/><circle cx="369.7" cy="955.3" r="5.8"/></g>
<g fill="#0072BD"><circle cx="371.2" cy="962.8" r="5.8"/></g>
<g fill="#D95319"><circle cx="371.6" cy="968.1" r="5.8"/><circle cx="372.6" cy="972.1" r="5.8"/></g>
<g fill="#EDB120"><circle cx="373.5" cy="976.3" r="5.8"/></g>
<g fill="#77AC30"><circle cx="372.0" cy="981.0" r="5.8"/></g>
<g fill="#EDB120"><circle cx="371.9" cy="987.1" r="5.8"/></g>
<g fill="#77AC30"><circle cx="373.4" cy="993.7" r="5.8"/></g>
<g fill="#EDB120"><circle cx="371.3" cy="996.3" r="5.8"/></g>
<g fill="#A2142F"><circle cx="369.7" cy="1000.1" r="5.8"/></g>
<g fill="#7E2F8E"><circle cx="370.0" cy="1008.4" r="5.8"/></g>
<g fill="#D95319"><circle cx="373.2" cy="1010.0" r="5.8"/></g>
<g fill="#0072BD"><circle cx="372.7" cy="1014.7" r="5.8"/><circle cx="370.9" cy="1020.4" r="5.8"/></g>
<g fill="#A2142F"><circle cx="372.2" cy="1025.1" r="5.8"/></g>
<g fill="#4DBEEE"><circle cx="372.1" cy="1029.9" r="5.8"/></g>
<g fill="#EDB120"><circle cx="370.5" cy="1036.6" r="5.8"/></g>
<g fill="#0072BD"><circle cx="370.1" cy="1041.7" r="5.8"/></g>
<g fill="#77AC30"><circle cx="370.3" cy="1048.4" r="5.8"/></g>
<g fill="#4DBEEE"><circle cx="371.6" cy="1057.4" r="5.8"/></g>
<g fill="#0072BD"><circle cx="375.1" cy="931.7" r="5.8"/><circle cx="375.0" cy="935.1" r="5.8"/></g>
<g fill="#D95319"><circle cx="374.7" cy="940.6" r="5.8"/></g>
<g fill="#4DBEEE"><circle cx="377.0" cy="948.1" r="5.8"/><circle cx="377.4" cy="951.7" r="5.8"/></g>
<g fill="#77AC30"><circle cx="375.2" cy="955.1" r="5.8"/></g>
<g fill="#D95319"><circle cx="377.0" cy="965.5" r="5.8"/><circle cx="375.7" cy="971.4" r="5.8"/></g>
<g fill="#77AC30"><circle cx="376.1" cy="977.9" r="5.8"/></g>
<g fill="#D95319"><circle cx="376.7" cy="981.6" r="5.8"/></g>
<g fill="#0072BD"><circle cx="377.6" cy="988.6" r="5.8"/></g>
<g fill="#7E2F8E"><circle cx="377.3" cy="992.5" r="5.8"/></g>
<g fill="#0072BD"><circle cx="374.6" cy="996.9" r="5.8"/></g>
<g fill="#7E2F8E"><circle cx="375.3" cy="1012.0" r="5.8"/><circle cx="377.0" cy="1017.7" r="5.8"/></g>
<g fill="#77AC30"><circle cx="376.4" cy="1019.9" r="5.8"/></g>
<g fill="#EDB120"><circle cx="377.8" cy="1028.0" r="5.8"/></g>
<g fill="#0072BD"><circle cx="374.7" cy="1030.5" r="5.8"/><circle cx="377.0" cy="1036.9" r="5.8"/></g>
<g fill="#4DBEEE"><circle cx="378.3" cy="1043.6" r="5.8"/></g>
<g fill="#0072BD"><circle cx="376.4" cy="1045.9" r="5.8"/></g>
<g fill="#D95319"><circle cx="377.8" cy="1052.5" r="5.8"/><circle cx="383.1" cy="927.0" r="5.8"/></g>
<g fill="#EDB120"><circle cx="381.2" cy="932.6" r="5.8"/></g>
<g fill="#7E2F8E"><circle cx="382.1" cy="935.2" r="5.8"/></g>
<g fill="#0072BD"><circle cx="380.6" cy="943.3" r="5.8"/></g>
<g fill="#D95319"><circle cx="380.8" cy="946.9" r="5.8"/></g>
<g fill="#0072BD"><circle cx="381.6" cy="953.4" r="5.8"/></g>
<g fill="#77AC30"><circle cx="382.6" cy="972.5" r="5.8"/></g>
<g fill="#D95319"><circle cx="381.3" cy="976.5" r="5.8"/></g>
<g fill="#0072BD"><circle cx="381.4" cy="980.7" r="5.8"/></g>
<g fill="#EDB120"><circle cx="381.4" cy="985.5" r="5.8"/></g>
<g fill="#0072BD"><circle cx="381.8" cy="990.9" r="5.8"/><circle cx="381.9" cy="998.1" r="5.8"/></g>
<g fill="#4DBEEE"><circle cx="382.0" cy="1017.3" r="5.8"/></g>
<g fill="#0072BD"><circle cx="382.2" cy="1020.9" r="5.8"/><circle cx="382.8" cy="1025.9" r="5.8"/></g>
<g fill="#D95319"><circle cx="383.0" cy="1035.5" r="5.8"/></g>
<g fill="#7E2F8E"><circle cx="380.8" cy="1040.7" r="5.8"/></g>
<g fill="#D95319"><circle cx="380.9" cy="1046.5" r="5.8"/></g>
<g fill="#EDB120"><circle cx="382.8" cy="1049.8" r="5.8"/><circle cx="380.0" cy="1055.3" r="5.8"/><circle cx="381.0" cy="1060.0" r="5.8"/><circle cx="388.2" cy="932.3" r="5.8"/></g>
<g fill="#0072BD"><circle cx="387.7" cy="938.4" r="5.8"/></g>
<g fill="#4DBEEE"><circle cx="385.7" cy="943.6" r="5.8"/><circle cx="385.3" cy="972.5" r="5.8"/></g>
<g fill="#EDB120"><circle cx="386.9" cy="982.5" r="5.8"/></g>
<g fill="#0072BD"><circle cx="385.4" cy="985.6" r="5.8"/></g>
<g fill="#7E2F8E"><circle cx="387.2" cy="990.3" r="5.8"/></g>
<g fill="#A2142F"><circle cx="386.1" cy="996.4" r="5.8"/></g>
<g fill="#D95319"><circle cx="386.1" cy="1001.6" r="5.8"/></g>
<g fill="#EDB120"><circle cx="385.4" cy="1005.6" r="5.8"/></g>
<g fill="#4DBEEE"><circle cx="387.8" cy="1010.1" r="5.8"/></g>
<g fill="#7E2F8E"><circle cx="387.2" cy="1019.9" r="5.8"/></g>
<g fill="#0072BD"><circle cx="386.1" cy="1031.8" r="5.8"/></g>
<g fill="#77AC30"><circle cx="386.5" cy="1036.8" r="5.8"/></g>
<g fill="#7E2F8E"><circle cx="386.8" cy="1042.5" r="5.8"/></g>
<g fill="#EDB120"><circle cx="385.4" cy="1044.8" r="5.8"/></g>
<g fill="#D95319"><circle cx="385.0" cy="1050.3" r="5.8"/></g>
<g fill="#7E2F8E"><circle cx="386.7" cy="1057.2" r="5.8"/></g>
<g fill="#EDB120"><circle cx="388.3" cy="1060.1" r="5.8"/><circle cx="389.8" cy="927.4" r="5.8"/></g>
<g fill="#7E2F8E"><circle cx="390.1" cy="945.9" r="5.8"/></g>
<g fill="#D95319"><circle cx="391.4" cy="953.5" r="5.8"/></g>
<g fill="#EDB120"><circle cx="390.9" cy="968.4" r="5.8"/></g>
<g fill="#D95319"><circle cx="389.9" cy="972.8" r="5.8"/></g>
<g fill="#77AC30"><circle cx="393.3" cy="977.2" r="5.8"/></g>
<g fill="#A2142F"><circle cx="393.1" cy="981.7" r="5.8"/></g>
<g fill="#77AC30"><circle cx="389.6" cy="986.1" r="5.8"/></g>
<g fill="#A2142F"><circle cx="389.5" cy="992.4" r="5.8"/></g>
<g fill="#0072BD"><circle cx="392.4" cy="998.1" r="5.8"/></g>
<g fill="#EDB120"><circle cx="391.7" cy="1002.1" r="5.8"/></g>
<g fill="#0072BD"><circle cx="391.2" cy="1007.9" r="5.8"/></g>
<g fill="#A2142F"><circle cx="389.7" cy="1022.1" r="5.8"/></g>
<g fill="#D95319"><circle cx="392.8" cy="1052.4" r="5.8"/><circle cx="393.1" cy="1054.9" r="5.8"/><circle cx="397.7" cy="938.3" r="5.8"/></g>
<g fill="#EDB120"><circle cx="398.1" cy="940.1" r="5.8"/></g>
<g fill="#0072BD"><circle cx="394.8" cy="945.6" r="5.8"/></g>
<g fill="#EDB120"><circle cx="394.5" cy="966.3" r="5.8"/></g>
<g fill="#0072BD"><circle cx="395.6" cy="972.3" r="5.8"/></g>
<g fill="#D95319"><circle cx="396.6" cy="976.8" r="5.8"/><circle cx="398.2" cy="980.2" r="5.8"/></g>
<g fill="#A2142F"><circle cx="396.3" cy="986.2" r="5.8"/></g>
<g fill="#EDB120"><circle cx="396.8" cy="991.8" r="5.8"/></g>
<g fill="#77AC30"><circle cx="396.2" cy="1003.5" r="5.8"/></g>
<g fill="#EDB120"><circle cx="397.1" cy="1005.3" r="5.8"/></g>
<g fill="#0072BD"><circle cx="395.0" cy="1011.1" r="5.8"/></g>
<g fill="#7E2F8E"><circle cx="397.3" cy="1018.6" r="5.8"/></g>
<g fill="#EDB120"><circle cx="396.8" cy="1020.7" r="5.8"/></g>
<g fill="#D95319"><circle cx="396.4" cy="1036.4" r="5.8"/></g>
<g fill="#A2142F"><circle cx="395.4" cy="1042.7" r="5.8"/></g>
<g fill="#0072BD"><circle cx="402.8" cy="947.2" r="5.8"/></g>
<g fill="#A2142F"><circle cx="400.7" cy="953.1" r="5.8"/></g>
<g fill="#7E2F8E"><circle cx="401.7" cy="957.0" r="5.8"/></g>
<g fill="#D95319"><circle cx="400.5" cy="972.5" r="5.8"/></g>
<g fill="#7E2F8E"><circle cx="402.9" cy="981.5" r="5.8"/></g>
<g fill="#EDB120"><circle cx="401.7" cy="986.8" r="5.8"/></g>
<g fill="#D95319"><circle cx="403.3" cy="992.7" r="5.8"/></g>
<g fill="#7E2F8E"><circle cx="401.5" cy="1003.3" r="5.8"/></g>
<g fill="#0072BD"><circle cx="402.1" cy="1008.5" r="5.8"/></g>
<g fill="#EDB120"><circle cx="401.9" cy="1012.2" r="5.8"/></g>
<g fill="#D95319"><circle cx="403.4" cy="1018.6" r="5.8"/></g>
<g fill="#7E2F8E"><circle cx="402.0" cy="1037.8" r="5.8"/></g>
<g fill="#D95319"><circle cx="401.0" cy="1042.9" r="5.8"/></g>
<g fill="#7E2F8E"><circle cx="400.1" cy="1047.4" r="5.8"/></g>
<g fill="#A2142F"><circle cx="401.1" cy="1056.7" r="5.8"/></g>
<g fill="#4DBEEE"><circle cx="407.7" cy="936.3" r="5.8"/></g>
<g fill="#7E2F8E"><circle cx="406.8" cy="941.3" r="5.8"/><circle cx="407.6" cy="953.3" r="5.8"/></g>
<g fill="#0072BD"><circle cx="407.2" cy="956.3" r="5.8"/></g>
<g fill="#4DBEEE"><circle cx="406.3" cy="970.2" r="5.8"/></g>
<g fill="#7E2F8E"><circle cx="405.9" cy="982.1" r="5.8"/></g>
<g fill="#D95319"><circle cx="405.2" cy="988.0" r="5.8"/><circle cx="404.8" cy="992.1" r="5.8"/></g>
<g fill="#0072BD"><circle cx="408.2" cy="1001.5" r="5.8"/></g>
<g fill="#EDB120"><circle cx="404.6" cy="1004.8" r="5.8"/></g>
<g fill="#D95319"><circle cx="407.4" cy="1009.9" r="5.8"/></g>
<g fill="#A2142F"><circle cx="406.4" cy="1043.3" r="5.8"/></g>
<g fill="#EDB120"><circle cx="408.0" cy="1057.3" r="5.8"/></g>
<g fill="#0072BD"><circle cx="410.4" cy="942.1" r="5.8"/></g>
<g fill="#EDB120"><circle cx="410.7" cy="948.0" r="5.8"/></g>
<g fill="#D95319"><circle cx="412.4" cy="951.6" r="5.8"/><circle cx="411.5" cy="967.0" r="5.8"/></g>
<g fill="#0072BD"><circle cx="412.9" cy="973.6" r="5.8"/></g>
<g fill="#7E2F8E"><circle cx="410.5" cy="982.9" r="5.8"/></g>
<g fill="#D95319"><circle cx="410.4" cy="987.0" r="5.8"/></g>
<g fill="#EDB120"><circle cx="413.0" cy="992.0" r="5.8"/><circle cx="410.1" cy="996.3" r="5.8"/></g>
<g fill="#0072BD"><circle cx="410.9" cy="1015.4" r="5.8"/></g>
<g fill="#77AC30"><circle cx="412.3" cy="1028.4" r="5.8"/></g>
<g fill="#0072BD"><circle cx="412.0" cy="1032.9" r="5.8"/><circle cx="410.3" cy="1037.5" r="5.8"/><circle cx="409.8" cy="1042.8" r="5.8"/></g>
<g fill="#77AC30"><circle cx="410.2" cy="1046.3" r="5.8"/></g>
<g fill="#D95319"><circle cx="414.5" cy="938.2" r="5.8"/></g>
<g fill="#0072BD"><circle cx="416.8" cy="941.6" r="5.8"/></g>
<g fill="#77AC30"><circle cx="418.3" cy="950.4" r="5.8"/></g>
<g fill="#A2142F"><circle cx="418.0" cy="956.5" r="5.8"/></g>
<g fill="#EDB120"><circle cx="414.8" cy="965.3" r="5.8"/><circle cx="414.8" cy="972.9" r="5.8"/></g>
<g fill="#0072BD"><circle cx="417.7" cy="975.8" r="5.8"/></g>
<g fill="#D95319"><circle cx="418.1" cy="980.5" r="5.8"/></g>
<g fill="#EDB120"><circle cx="415.0" cy="987.0" r="5.8"/></g>
<g fill="#D95319"><circle cx="415.3" cy="989.9" r="5.8"/></g>
<g fill="#0072BD"><circle cx="417.6" cy="995.3" r="5.8"/></g>
<g fill="#77AC30"><circle cx="417.0" cy="1002.2" r="5.8"/></g>
<g fill="#0072BD"><circle cx="417.1" cy="1008.1" r="5.8"/><circle cx="418.2" cy="1009.8" r="5.8"/></g>
<g fill="#EDB120"><circle cx="414.9" cy="1017.8" r="5.8"/></g>
<g fill="#4DBEEE"><circle cx="418.2" cy="1033.6" r="5.8"/></g>
<g fill="#A2142F"><circle cx="417.0" cy="1036.1" r="5.8"/></g>
<g fill="#EDB120"><circle cx="417.4" cy="1045.5" r="5.8"/></g>
<g fill="#7E2F8E"><circle cx="414.6" cy="1049.8" r="5.8"/><circle cx="417.4" cy="1058.1" r="5.8"/></g>
<g fill="#A2142F"><circle cx="420.0" cy="972.7" r="5.8"/></g>
<g fill="#D95319"><circle cx="422.2" cy="981.6" r="5.8"/></g>
<g fill="#A2142F"><circle cx="419.8" cy="987.2" r="5.8"/></g>
<g fill="#4DBEEE"><circle cx="420.0" cy="993.0" r="5.8"/></g>
<g fill="#0072BD"><circle cx="420.9" cy="998.1" r="5.8"/></g>
<g fill="#4DBEEE"><circle cx="420.7" cy="1007.0" r="5.8"/><circle cx="421.6" cy="1015.1" r="5.8"/></g>
<g fill="#0072BD"><circle cx="421.8" cy="1022.8" r="5.8"/><circle cx="420.8" cy="1025.1" r="5.8"/></g>
<g fill="#7E2F8E"><circle cx="421.2" cy="1031.3" r="5.8"/></g>
<g fill="#4DBEEE"><circle cx="422.8" cy="1036.0" r="5.8"/></g>
<g fill="#0072BD"><circle cx="422.1" cy="1041.1" r="5.8"/><circle cx="423.3" cy="1047.3" r="5.8"/></g>
<g fill="#D95319"><circle cx="422.2" cy="1061.2" r="5.8"/><circle cx="427.6" cy="935.6" r="5.8"/></g>
<g fill="#0072BD"><circle cx="426.7" cy="958.3" r="5.8"/><circle cx="427.8" cy="967.6" r="5.8"/></g>
<g fill="#7E2F8E"><circle cx="427.1" cy="972.2" r="5.8"/></g>
<g fill="#EDB120"><circle cx="426.6" cy="976.0" r="5.8"/></g>
<g fill="#D95319"><circle cx="425.5" cy="981.5" r="5.8"/><circle cx="424.9" cy="985.6" r="5.8"/></g>
<g fill="#7E2F8E"><circle cx="426.1" cy="992.0" r="5.8"/></g>
<g fill="#D95319"><circle cx="425.5" cy="996.9" r="5.8"/></g>
<g fill="#A2142F"><circle cx="425.4" cy="1000.3" r="5.8"/></g>
<g fill="#0072BD"><circle cx="428.2" cy="1008.0" r="5.8"/></g>
<g fill="#D95319"><circle cx="425.1" cy="1015.1" r="5.8"/><circle cx="426.2" cy="1024.7" r="5.8"/></g>
<g fill="#0072BD"><circle cx="427.3" cy="1033.0" r="5.8"/></g>
<g fill="#D95319"><circle cx="424.5" cy="1037.9" r="5.8"/><circle cx="425.8" cy="1040.3" r="5.8"/></g>
<g fill="#0072BD"><circle cx="430.6" cy="940.7" r="5.8"/></g>
<g fill="#D95319"><circle cx="431.6" cy="963.0" r="5.8"/></g>
<g fill="#77AC30"><circle cx="431.2" cy="966.6" r="5.8"/></g>
<g fill="#0072BD"><circle cx="432.6" cy="973.6" r="5.8"/></g>
<g fill="#EDB120"><circle cx="432.7" cy="975.9" r="5.8"/></g>
<g fill="#D95319"><circle cx="431.6" cy="982.0" r="5.8"/></g>
<g fill="#4DBEEE"><circle cx="429.8" cy="984.7" r="5.8"/></g>
<g fill="#0072BD"><circle cx="433.0" cy="991.5" r="5.8"/></g>
<g fill="#EDB120"><circle cx="432.9" cy="996.7" r="5.8"/></g>
<g fill="#0072BD"><circle cx="432.1" cy="1000.3" r="5.8"/></g>
<g fill="#A2142F"><circle cx="432.8" cy="1007.6" r="5.8"/></g>
<g fill="#4DBEEE"><circle cx="431.2" cy="1023.6" r="5.8"/></g>
<g fill="#0072BD"><circle cx="431.5" cy="1038.3" r="5.8"/><circle cx="429.8" cy="1043.0" r="5.8"/></g>
<g fill="#7E2F8E"><circle cx="436.6" cy="942.6" r="5.8"/></g>
<g fill="#0072BD"><circle cx="435.4" cy="957.8" r="5.8"/></g>
<g fill="#EDB120"><circle cx="436.7" cy="963.3" r="5.8"/></g>
<g fill="#7E2F8E"><circle cx="435.7" cy="968.7" r="5.8"/></g>
<g fill="#4DBEEE"><circle cx="437.7" cy="973.3" r="5.8"/></g>
<g fill="#EDB120"><circle cx="436.8" cy="978.0" r="5.8"/></g>
<g fill="#D95319"><circle cx="435.5" cy="980.8" r="5.8"/><circle cx="434.6" cy="987.2" r="5.8"/></g>
<g fill="#77AC30"><circle cx="438.1" cy="989.9" r="5.8"/></g>
<g fill="#D95319"><circle cx="435.3" cy="1001.0" r="5.8"/></g>
<g fill="#EDB120"><circle cx="438.3" cy="1007.3" r="5.8"/></g>
<g fill="#D95319"><circle cx="435.2" cy="1009.9" r="5.8"/></g>
<g fill="#7E2F8E"><circle cx="438.4" cy="1036.5" r="5.8"/></g>
<g fill="#D95319"><circle cx="438.0" cy="1039.9" r="5.8"/><circle cx="441.2" cy="940.6" r="5.8"/></g>
<g fill="#7E2F8E"><circle cx="442.2" cy="945.2" r="5.8"/></g>
<g fill="#0072BD"><circle cx="440.7" cy="952.3" r="5.8"/></g>
<g fill="#77AC30"><circle cx="442.7" cy="956.4" r="5.8"/></g>
<g fill="#0072BD"><circle cx="443.4" cy="962.0" r="5.8"/></g>
<g fill="#7E2F8E"><circle cx="441.0" cy="968.6" r="5.8"/></g>
<g fill="#4DBEEE"><circle cx="442.5" cy="971.6" r="5.8"/></g>
<g fill="#EDB120"><circle cx="443.1" cy="977.2" r="5.8"/></g>
<g fill="#0072BD"><circle cx="439.9" cy="979.7" r="5.8"/></g>
<g fill="#77AC30"><circle cx="442.4" cy="988.1" r="5.8"/></g>
<g fill="#0072BD"><circle cx="443.0" cy="989.8" r="5.8"/></g>
<g fill="#EDB120"><circle cx="440.5" cy="994.8" r="5.8"/></g>
<g fill="#0072BD"><circle cx="443.2" cy="1003.3" r="5.8"/></g>
<g fill="#7E2F8E"><circle cx="442.2" cy="1012.4" r="5.8"/></g>
<g fill="#4DBEEE"><circle cx="441.1" cy="1015.6" r="5.8"/></g>
<g fill="#EDB120"><circle cx="443.1" cy="1022.6" r="5.8"/></g>
<g fill="#D95319"><circle cx="439.6" cy="1025.8" r="5.8"/></g>
<g fill="#7E2F8E"><circle cx="440.5" cy="1030.6" r="5.8"/></g>
<g fill="#4DBEEE"><circle cx="442.2" cy="1035.4" r="5.8"/></g>
<g fill="#EDB120"><circle cx="439.5" cy="1043.5" r="5.8"/></g>
<g fill="#7E2F8E"><circle cx="442.1" cy="1050.8" r="5.8"/></g>
<g fill="#0072BD"><circle cx="448.0" cy="940.5" r="5.8"/><circle cx="447.7" cy="945.7" r="5.8"/><circle cx="446.5" cy="955.4" r="5.8"/></g>
<g fill="#77AC30"><circle cx="445.6" cy="960.0" r="5.8"/></g>
<g fill="#D95319"><circle cx="446.8" cy="967.3" r="5.8"/></g>
<g fill="#A2142F"><circle cx="447.6" cy="973.5" r="5.8"/></g>
<g fill="#0072BD"><circle cx="444.7" cy="975.9" r="5.8"/></g>
<g fill="#EDB120"><circle cx="446.4" cy="982.3" r="5.8"/></g>
<g fill="#7E2F8E"><circle cx="445.9" cy="988.6" r="5.8"/><circle cx="448.5" cy="996.4" r="5.8"/><circle cx="444.9" cy="1006.8" r="5.8"/></g>
<g fill="#0072BD"><circle cx="445.4" cy="1017.2" r="5.8"/></g>
<g fill="#EDB120"><circle cx="446.3" cy="1027.1" r="5.8"/></g>
<g fill="#D95319"><circle cx="445.1" cy="1030.5" r="5.8"/></g>
<g fill="#0072BD"><circle cx="447.1" cy="1036.4" r="5.8"/><circle cx="450.9" cy="940.9" r="5.8"/></g>
<g fill="#D95319"><circle cx="451.9" cy="951.6" r="5.8"/></g>
<g fill="#0072BD"><circle cx="449.5" cy="958.4" r="5.8"/></g>
<g fill="#77AC30"><circle cx="450.0" cy="960.9" r="5.8"/></g>
<g fill="#0072BD"><circle cx="453.2" cy="967.7" r="5.8"/><circle cx="452.9" cy="969.8" r="5.8"/></g>
<g fill="#EDB120"><circle cx="449.9" cy="977.0" r="5.8"/></g>
<g fill="#7E2F8E"><circle cx="452.0" cy="983.5" r="5.8"/></g>
<g fill="#4DBEEE"><circle cx="452.5" cy="985.4" r="5.8"/></g>
<g fill="#0072BD"><circle cx="453.2" cy="993.0" r="5.8"/></g>
<g fill="#EDB120"><circle cx="452.4" cy="996.8" r="5.8"/></g>
<g fill="#77AC30"><circle cx="450.6" cy="1002.8" r="5.8"/></g>
<g fill="#7E2F8E"><circle cx="452.6" cy="1005.9" r="5.8"/></g>
<g fill="#0072BD"><circle cx="449.8" cy="1012.4" r="5.8"/></g>
<g fill="#7E2F8E"><circle cx="449.5" cy="1015.1" r="5.8"/><circle cx="453.4" cy="1026.6" r="5.8"/></g>
<g fill="#A2142F"><circle cx="451.8" cy="1038.1" r="5.8"/></g>
<g fill="#0072BD"><circle cx="452.8" cy="1041.0" r="5.8"/></g>
<g fill="#7E2F8E"><circle cx="458.1" cy="935.8" r="5.8"/></g>
<g fill="#0072BD"><circle cx="458.0" cy="940.4" r="5.8"/></g>
<g fill="#77AC30"><circle cx="456.2" cy="958.1" r="5.8"/></g>
<g fill="#7E2F8E"><circle cx="458.5" cy="960.8" r="5.8"/></g>
<g fill="#EDB120"><circle cx="458.0" cy="966.2" r="5.8"/><circle cx="455.4" cy="973.1" r="5.8"/></g>
<g fill="#D95319"><circle cx="456.4" cy="977.3" r="5.8"/></g>
<g fill="#EDB120"><circle cx="457.8" cy="981.5" r="5.8"/></g>
<g fill="#7E2F8E"><circle cx="457.4" cy="987.4" r="5.8"/></g>
<g fill="#D95319"><circle cx="458.0" cy="992.9" r="5.8"/></g>
<g fill="#0072BD"><circle cx="457.1" cy="998.2" r="5.8"/></g>
<g fill="#D95319"><circle cx="457.1" cy="1001.8" r="5.8"/></g>
<g fill="#7E2F8E"><circle cx="455.0" cy="1005.9" r="5.8"/><circle cx="458.0" cy="1013.6" r="5.8"/></g>
<g fill="#0072BD"><circle cx="458.0" cy="1018.0" r="5.8"/></g>
<g fill="#7E2F8E"><circle cx="457.3" cy="1023.2" r="5.8"/></g>
<g fill="#D95319"><circle cx="455.6" cy="1042.5" r="5.8"/></g>
<g fill="#7E2F8E"><circle cx="456.2" cy="1047.6" r="5.8"/></g>
<g fill="#0072BD"><circle cx="460.0" cy="937.3" r="5.8"/></g>
<g fill="#4DBEEE"><circle cx="460.3" cy="948.0" r="5.8"/></g>
<g fill="#0072BD"><circle cx="460.5" cy="957.8" r="5.8"/><circle cx="461.5" cy="961.1" r="5.8"/></g>
<g fill="#77AC30"><circle cx="461.2" cy="966.9" r="5.8"/></g>
<g fill="#0072BD"><circle cx="459.9" cy="970.9" r="5.8"/></g>
<g fill="#77AC30"><circle cx="460.3" cy="975.8" r="5.8"/></g>
<g fill="#EDB120"><circle cx="463.3" cy="985.6" r="5.8"/></g>
<g fill="#A2142F"><circle cx="461.6" cy="996.7" r="5.8"/></g>
<g fill="#D95319"><circle cx="463.3" cy="999.9" r="5.8"/></g>
<g fill="#EDB120"><circle cx="461.6" cy="1007.3" r="5.8"/><circle cx="462.8" cy="1010.1" r="5.8"/></g>
<g fill="#0072BD"><circle cx="462.8" cy="1015.4" r="5.8"/></g>
<g fill="#EDB120"><circle cx="462.0" cy="1020.3" r="5.8"/></g>
<g fill="#D95319"><circle cx="460.0" cy="1050.4" r="5.8"/></g>
<g fill="#EDB120"><circle cx="467.6" cy="937.1" r="5.8"/></g>
<g fill="#A2142F"><circle cx="467.0" cy="941.3" r="5.8"/></g>
<g fill="#0072BD"><circle cx="466.9" cy="952.2" r="5.8"/></g>
<g fill="#A2142F"><circle cx="465.5" cy="957.0" r="5.8"/></g>
<g fill="#77AC30"><circle cx="467.3" cy="959.9" r="5.8"/></g>
<g fill="#0072BD"><circle cx="465.3" cy="967.1" r="5.8"/></g>
<g fill="#EDB120"><circle cx="464.7" cy="972.8" r="5.8"/><circle cx="466.9" cy="977.5" r="5.8"/><circle cx="466.2" cy="981.0" r="5.8"/></g>
<g fill="#77AC30"><circle cx="465.5" cy="985.7" r="5.8"/></g>
<g fill="#7E2F8E"><circle cx="465.9" cy="992.6" r="5.8"/></g>
<g fill="#D95319"><circle cx="466.4" cy="997.8" r="5.8"/></g>
<g fill="#7E2F8E"><circle cx="464.5" cy="1003.1" r="5.8"/></g>
<g fill="#D95319"><circle cx="467.5" cy="1013.4" r="5.8"/></g>
<g fill="#4DBEEE"><circle cx="466.2" cy="1042.2" r="5.8"/></g>
<g fill="#A2142F"><circle cx="470.6" cy="937.7" r="5.8"/></g>
<g fill="#0072BD"><circle cx="470.5" cy="939.8" r="5.8"/></g>
<g fill="#4DBEEE"><circle cx="472.1" cy="945.6" r="5.8"/></g>
<g fill="#D95319"><circle cx="469.9" cy="953.3" r="5.8"/></g>
<g fill="#0072BD"><circle cx="473.2" cy="956.1" r="5.8"/></g>
<g fill="#4DBEEE"><circle cx="472.2" cy="960.9" r="5.8"/></g>
<g fill="#EDB120"><circle cx="472.8" cy="965.7" r="5.8"/></g>
<g fill="#D95319"><circle cx="471.7" cy="972.8" r="5.8"/></g>
<g fill="#EDB120"><circle cx="471.8" cy="976.8" r="5.8"/></g>
<g fill="#D95319"><circle cx="471.7" cy="981.4" r="5.8"/></g>
<g fill="#EDB120"><circle cx="471.1" cy="988.7" r="5.8"/></g>
<g fill="#77AC30"><circle cx="469.9" cy="991.3" r="5.8"/></g>
<g fill="#D95319"><circle cx="472.2" cy="995.0" r="5.8"/><circle cx="471.3" cy="1003.1" r="5.8"/></g>
<g fill="#0072BD"><circle cx="473.2" cy="1008.0" r="5.8"/></g>
<g fill="#7E2F8E"><circle cx="471.5" cy="1011.8" r="5.8"/></g>
<g fill="#77AC30"><circle cx="473.1" cy="1015.5" r="5.8"/></g>
<g fill="#D95319"><circle cx="469.5" cy="1023.0" r="5.8"/></g>
<g fill="#A2142F"><circle cx="469.6" cy="1053.0" r="5.8"/></g>
<g fill="#D95319"><circle cx="477.1" cy="942.8" r="5.8"/></g>
<g fill="#77AC30"><circle cx="475.5" cy="947.4" r="5.8"/></g>
<g fill="#D95319"><circle cx="475.6" cy="951.2" r="5.8"/></g>
<g fill="#0072BD"><circle cx="475.6" cy="958.2" r="5.8"/></g>
<g fill="#77AC30"><circle cx="474.6" cy="960.4" r="5.8"/></g>
<g fill="#7E2F8E"><circle cx="476.8" cy="967.7" r="5.8"/></g>
<g fill="#0072BD"><circle cx="478.1" cy="972.0" r="5.8"/><circle cx="474.9" cy="976.3" r="5.8"/></g>
<g fill="#A2142F"><circle cx="475.7" cy="980.8" r="5.8"/></g>
<g fill="#D95319"><circle cx="478.4" cy="992.4" r="5.8"/></g>
<g fill="#EDB120"><circle cx="476.2" cy="995.0" r="5.8"/></g>
<g fill="#77AC30"><circle cx="475.1" cy="1001.8" r="5.8"/><circle cx="476.1" cy="1007.5" r="5.8"/></g>
<g fill="#0072BD"><circle cx="478.2" cy="1016.4" r="5.8"/></g>
<g fill="#D95319"><circle cx="478.1" cy="1021.7" r="5.8"/></g>
<g fill="#A2142F"><circle cx="477.2" cy="1033.2" r="5.8"/></g>
<g fill="#D95319"><circle cx="481.0" cy="930.8" r="5.8"/></g>
<g fill="#4DBEEE"><circle cx="480.7" cy="935.6" r="5.8"/></g>
<g fill="#0072BD"><circle cx="482.0" cy="939.9" r="5.8"/></g>
<g fill="#D95319"><circle cx="480.2" cy="948.6" r="5.8"/></g>
<g fill="#0072BD"><circle cx="482.7" cy="950.6" r="5.8"/></g>
<g fill="#EDB120"><circle cx="483.3" cy="955.0" r="5.8"/></g>
<g fill="#7E2F8E"><circle cx="481.6" cy="961.1" r="5.8"/></g>
<g fill="#D95319"><circle cx="482.9" cy="965.6" r="5.8"/></g>
<g fill="#7E2F8E"><circle cx="481.4" cy="971.6" r="5.8"/></g>
<g fill="#4DBEEE"><circle cx="482.6" cy="976.1" r="5.8"/></g>
<g fill="#D95319"><circle cx="481.3" cy="979.8" r="5.8"/></g>
<g fill="#4DBEEE"><circle cx="481.6" cy="985.4" r="5.8"/></g>
<g fill="#D95319"><circle cx="481.9" cy="991.8" r="5.8"/></g>
<g fill="#7E2F8E"><circle cx="480.0" cy="995.8" r="5.8"/></g>
<g fill="#0072BD"><circle cx="482.2" cy="1002.4" r="5.8"/></g>
<g fill="#7E2F8E"><circle cx="482.6" cy="1007.5" r="5.8"/></g>
<g fill="#A2142F"><circle cx="481.6" cy="1013.1" r="5.8"/></g>
<g fill="#EDB120"><circle cx="481.8" cy="1016.4" r="5.8"/></g>
<g fill="#77AC30"><circle cx="482.7" cy="1022.4" r="5.8"/></g>
<g fill="#0072BD"><circle cx="485.7" cy="932.1" r="5.8"/></g>
<g fill="#EDB120"><circle cx="486.8" cy="934.8" r="5.8"/><circle cx="487.4" cy="943.3" r="5.8"/></g>
<g fill="#0072BD"><circle cx="488.0" cy="945.5" r="5.8"/></g>
<g fill="#D95319"><circle cx="486.7" cy="951.1" r="5.8"/></g>
<g fill="#4DBEEE"><circle cx="486.9" cy="957.7" r="5.8"/></g>
<g fill="#7E2F8E"><circle cx="485.8" cy="962.0" r="5.8"/></g>
<g fill="#EDB120"><circle cx="487.2" cy="967.0" r="5.8"/></g>
<g fill="#77AC30"><circle cx="487.7" cy="969.8" r="5.8"/></g>
<g fill="#7E2F8E"><circle cx="485.2" cy="980.4" r="5.8"/></g>
<g fill="#0072BD"><circle cx="486.3" cy="991.1" r="5.8"/><circle cx="484.7" cy="1000.8" r="5.8"/></g>
<g fill="#D95319"><circle cx="487.3" cy="1010.5" r="5.8"/></g>
<g fill="#77AC30"><circle cx="486.2" cy="1017.5" r="5.8"/></g>
<g fill="#0072BD"><circle cx="487.0" cy="1020.6" r="5.8"/></g>
<g fill="#7E2F8E"><circle cx="491.7" cy="941.2" r="5.8"/></g>
<g fill="#D95319"><circle cx="490.4" cy="952.5" r="5.8"/></g>
<g fill="#7E2F8E"><circle cx="490.6" cy="955.4" r="5.8"/></g>
<g fill="#77AC30"><circle cx="491.5" cy="966.9" r="5.8"/></g>
<g fill="#D95319"><circle cx="489.6" cy="971.9" r="5.8"/><circle cx="490.5" cy="983.0" r="5.8"/></g>
<g fill="#0072BD"><circle cx="491.1" cy="986.4" r="5.8"/></g>
<g fill="#EDB120"><circle cx="490.7" cy="989.7" r="5.8"/></g>
<g fill="#A2142F"><circle cx="492.0" cy="998.7" r="5.8"/></g>
<g fill="#0072BD"><circle cx="490.8" cy="1003.6" r="5.8"/></g>
<g fill="#7E2F8E"><circle cx="490.1" cy="1006.8" r="5.8"/></g>
<g fill="#D95319"><circle cx="496.9" cy="959.8" r="5.8"/></g>
<g fill="#7E2F8E"><circle cx="496.5" cy="971.2" r="5.8"/></g>
<g fill="#EDB120"><circle cx="497.5" cy="980.0" r="5.8"/></g>
<g fill="#7E2F8E"><circle cx="497.3" cy="997.9" r="5.8"/></g>
<g fill="#D95319"><circle cx="498.4" cy="1002.7" r="5.8"/></g>
<g fill="#EDB120"><circle cx="497.8" cy="1007.1" r="5.8"/></g>
<g fill="#7E2F8E"><circle cx="496.9" cy="1012.7" r="5.8"/></g>
<g fill="#D95319"><circle cx="501.3" cy="967.8" r="5.8"/></g>
<g fill="#EDB120"><circle cx="502.5" cy="983.4" r="5.8"/></g>
<g fill="#0072BD"><circle cx="500.1" cy="988.3" r="5.8"/></g>
<g fill="#D95319"><circle cx="500.3" cy="989.9" r="5.8"/></g>
<g fill="#0072BD"><circle cx="501.1" cy="998.0" r="5.8"/><circle cx="501.0" cy="1002.8" r="5.8"/></g>
<g fill="#77AC30"><circle cx="501.2" cy="1005.3" r="5.8"/></g>
<g fill="#0072BD"><circle cx="500.7" cy="1010.3" r="5.8"/><circle cx="505.3" cy="962.5" r="5.8"/><circle cx="504.7" cy="970.7" r="5.8"/></g>
<g fill="#EDB120"><circle cx="507.4" cy="982.7" r="5.8"/></g>
<g fill="#7E2F8E"><circle cx="505.8" cy="984.9" r="5.8"/></g>
<g fill="#A2142F"><circle cx="505.5" cy="991.9" r="5.8"/></g>
<g fill="#EDB120"><circle cx="505.5" cy="997.5" r="5.8"/></g>
<g fill="#7E2F8E"><circle cx="506.6" cy="1001.3" r="5.8"/></g>
<g fill="#77AC30"><circle cx="511.6" cy="969.8" r="5.8"/></g>
<g fill="#EDB120"><circle cx="510.5" cy="976.1" r="5.8"/></g>
<g fill="#0072BD"><circle cx="511.9" cy="982.7" r="5.8"/></g>
<g fill="#EDB120"><circle cx="511.0" cy="987.2" r="5.8"/></g>
<g fill="#A2142F"><circle cx="515.5" cy="962.9" r="5.8"/></g>
<g fill="#0072BD"><circle cx="517.1" cy="966.8" r="5.8"/></g>
<g fill="#D95319"><circle cx="516.4" cy="972.8" r="5.8"/><circle cx="516.3" cy="976.5" r="5.8"/></g>
<g fill="#4DBEEE"><circle cx="517.0" cy="980.9" r="5.8"/></g>
<g fill="#0072BD"><circle cx="517.9" cy="985.9" r="5.8"/></g>
<g fill="#D95319"><circle cx="519.6" cy="963.0" r="5.8"/></g>
<g fill="#77AC30"><circle cx="520.0" cy="974.9" r="5.8"/></g>
<g fill="#D95319"><circle cx="520.3" cy="983.4" r="5.8"/></g>
<g fill="#7E2F8E"><circle cx="522.0" cy="986.1" r="5.8"/></g>
<g fill="#0072BD"><circle cx="525.1" cy="980.8" r="5.8"/></g>
<g fill="#A2142F"><circle cx="529.8" cy="952.0" r="5.8"/></g>
<g fill="#D95319"><circle cx="529.5" cy="963.2" r="5.8"/><circle cx="530.1" cy="979.8" r="5.8"/></g>
<g fill="#EDB120"><circle cx="539.8" cy="956.7" r="5.8"/></g>
<g fill="#0072BD"><circle cx="510.6" cy="916.4" r="5.8"/><circle cx="490.7" cy="924.1" r="5.8"/><circle cx="492.2" cy="931.7" r="5.8"/><circle cx="580.1" cy="935.1" r="5.8"/><circle cx="483.1" cy="937.8" r="5.8"/><circle cx="249.4" cy="981.0" r="5.8"/><circle cx="339.5" cy="928.9" r="5.8"/><circle cx="344.8" cy="930.4" r="5.8"/><circle cx="350.2" cy="938.9" r="5.8"/><circle cx="367.0" cy="940.4" r="5.8"/><circle cx="376.2" cy="930.4" r="5.8"/><circle cx="321.9" cy="944.2" r="5.8"/><circle cx="309.7" cy="958.0" r="5.8"/><circle cx="317.3" cy="956.4" r="5.8"/><circle cx="315.0" cy="968.7" r="5.8"/><circle cx="330.3" cy="964.8" r="5.8"/><circle cx="342.5" cy="965.6" r="5.8"/><circle cx="363.9" cy="956.4" r="5.8"/><circle cx="371.6" cy="951.8" r="5.8"/><circle cx="279.4" cy="988.2" r="5.8"/><circle cx="333.4" cy="991.6" r="5.8"/><circle cx="385.4" cy="935.0" r="5.8"/><circle cx="388.2" cy="939.2" r="5.8"/><circle cx="430.3" cy="934.3" r="5.8"/><circle cx="438.7" cy="937.1" r="5.8"/><circle cx="475.1" cy="935.0" r="5.8"/><circle cx="372.8" cy="956.1" r="5.8"/><circle cx="372.1" cy="947.6" r="5.8"/><circle cx="386.8" cy="970.1" r="5.8"/><circle cx="510.1" cy="963.1" r="5.8"/><circle cx="517.1" cy="986.9" r="5.8"/><circle cx="525.5" cy="984.8" r="5.8"/><circle cx="484.2" cy="946.3" r="5.8"/><circle cx="209.1" cy="1051.1" r="5.8"/><circle cx="166.5" cy="1072.9" r="5.8"/><circle cx="172.7" cy="1069.6" r="5.8"/><circle cx="206.8" cy="1080.3" r="5.8"/><circle cx="233.1" cy="1081.0" r="5.8"/><circle cx="248.1" cy="1082.7" r="5.8"/><circle cx="255.1" cy="1087.6" r="5.8"/><circle cx="254.4" cy="1037.6" r="5.8"/><circle cx="167.5" cy="1100.3" r="5.8"/><circle cx="277.3" cy="1027.1" r="5.8"/><circle cx="265.4" cy="1034.8" r="5.8"/><circle cx="287.8" cy="1040.4" r="5.8"/><circle cx="282.2" cy="1085.3" r="5.8"/><circle cx="332.7" cy="1046.1" r="5.8"/><circle cx="336.9" cy="1050.3" r="5.8"/><circle cx="341.1" cy="1062.9" r="5.8"/><circle cx="339.7" cy="1083.9" r="5.8"/><circle cx="353.7" cy="1085.3" r="5.8"/><circle cx="306.1" cy="1082.5" r="5.8"/><circle cx="313.1" cy="1068.5" r="5.8"/><circle cx="334.1" cy="1006.8" r="5.8"/><circle cx="342.5" cy="1004.0" r="5.8"/><circle cx="353.7" cy="1006.8" r="5.8"/><circle cx="357.9" cy="1040.4" r="5.8"/><circle cx="324.3" cy="1005.4" r="5.8"/><circle cx="372.6" cy="1016.6" r="5.8"/><circle cx="365.6" cy="1027.8" r="5.8"/><circle cx="414.6" cy="1027.1" r="5.8"/><circle cx="423.1" cy="1037.6" r="5.8"/><circle cx="449.7" cy="1026.4" r="5.8"/><circle cx="413.2" cy="1071.3" r="5.8"/><circle cx="379.6" cy="1085.3" r="5.8"/><circle cx="375.4" cy="1064.3" r="5.8"/><circle cx="362.1" cy="1039.0" r="5.8"/><circle cx="442.7" cy="1039.0" r="5.8"/><circle cx="486.8" cy="1055.2" r="5.8"/><circle cx="524.3" cy="1056.0" r="5.8"/><circle cx="528.1" cy="1053.7" r="5.8"/><circle cx="550.3" cy="1078.9" r="5.8"/><circle cx="519.4" cy="1092.2" r="5.8"/><circle cx="590.8" cy="1145.4" r="5.8"/><circle cx="226.4" cy="1109.1" r="5.8"/><circle cx="221.8" cy="1130.5" r="5.8"/><circle cx="307.5" cy="1104.6" r="5.8"/><circle cx="277.3" cy="1101.1" r="5.8"/><circle cx="276.6" cy="1116.1" r="5.8"/><circle cx="318.0" cy="1092.0" r="5.8"/><circle cx="327.1" cy="1087.8" r="5.8"/><circle cx="348.1" cy="1089.2" r="5.8"/><circle cx="356.5" cy="1103.2" r="5.8"/><circle cx="314.5" cy="1110.2" r="5.8"/><circle cx="321.5" cy="1111.6" r="5.8"/><circle cx="324.3" cy="1117.9" r="5.8"/><circle cx="345.3" cy="1107.4" r="5.8"/><circle cx="339.7" cy="1114.4" r="5.8"/><circle cx="348.8" cy="1122.8" r="5.8"/><circle cx="339.7" cy="1127.0" r="5.8"/><circle cx="325.0" cy="1127.7" r="5.8"/><circle cx="325.0" cy="1135.4" r="5.8"/><circle cx="335.5" cy="1136.1" r="5.8"/><circle cx="303.2" cy="1139.6" r="5.8"/><circle cx="310.3" cy="1136.1" r="5.8"/><circle cx="301.8" cy="1152.3" r="5.8"/><circle cx="324.3" cy="1154.4" r="5.8"/><circle cx="336.5" cy="1152.3" r="5.8"/><circle cx="357.2" cy="1149.7" r="5.8"/><circle cx="318.2" cy="1166.3" r="5.8"/><circle cx="404.8" cy="1087.8" r="5.8"/><circle cx="377.9" cy="1107.1" r="5.8"/><circle cx="369.1" cy="1116.9" r="5.8"/><circle cx="388.7" cy="1188.0" r="5.8"/></g>
<g fill="#D95319"><circle cx="518.7" cy="893.2" r="5.8"/><circle cx="502.9" cy="920.6" r="5.8"/><circle cx="480.0" cy="924.1" r="5.8"/><circle cx="559.0" cy="936.6" r="5.8"/><circle cx="480.8" cy="942.4" r="5.8"/><circle cx="533.5" cy="950.8" r="5.8"/><circle cx="500.6" cy="949.3" r="5.8"/><circle cx="578.6" cy="953.9" r="5.8"/><circle cx="267.4" cy="992.2" r="5.8"/><circle cx="331.8" cy="938.9" r="5.8"/><circle cx="365.5" cy="993.1" r="5.8"/><circle cx="330.3" cy="987.0" r="5.8"/><circle cx="387.5" cy="960.3" r="5.8"/><circle cx="423.2" cy="968.7" r="5.8"/><circle cx="472.3" cy="972.9" r="5.8"/><circle cx="485.6" cy="942.8" r="5.8"/><circle cx="480.0" cy="1031.1" r="5.8"/><circle cx="227.8" cy="1044.6" r="5.8"/><circle cx="273.1" cy="1015.9" r="5.8"/><circle cx="284.3" cy="1051.0" r="5.8"/><circle cx="297.6" cy="1046.1" r="5.8"/><circle cx="356.5" cy="1019.4" r="5.8"/><circle cx="435.7" cy="1060.1" r="5.8"/><circle cx="444.1" cy="1065.7" r="5.8"/><circle cx="460.9" cy="1071.3" r="5.8"/><circle cx="402.0" cy="1083.9" r="5.8"/><circle cx="362.8" cy="1085.3" r="5.8"/><circle cx="361.4" cy="1065.7" r="5.8"/><circle cx="364.2" cy="1011.0" r="5.8"/><circle cx="444.1" cy="1043.2" r="5.8"/><circle cx="467.9" cy="1023.6" r="5.8"/><circle cx="423.1" cy="1036.2" r="5.8"/><circle cx="476.1" cy="1059.0" r="5.8"/><circle cx="554.8" cy="1118.4" r="5.8"/><circle cx="523.2" cy="1133.5" r="5.8"/><circle cx="214.5" cy="1152.7" r="5.8"/><circle cx="284.8" cy="1166.3" r="5.8"/><circle cx="349.5" cy="1085.0" r="5.8"/><circle cx="360.0" cy="1087.8" r="5.8"/><circle cx="424.7" cy="1099.0" r="5.8"/><circle cx="392.5" cy="1097.3" r="5.8"/><circle cx="401.4" cy="1219.3" r="5.8"/></g>
<g fill="#EDB120"><circle cx="473.9" cy="841.7" r="5.8"/><circle cx="463.4" cy="867.4" r="5.8"/><circle cx="450.1" cy="909.0" r="5.8"/><circle cx="488.6" cy="908.3" r="5.8"/><circle cx="433.9" cy="915.3" r="5.8"/><circle cx="400.3" cy="919.5" r="5.8"/><circle cx="468.3" cy="918.8" r="5.8"/><circle cx="536.3" cy="902.4" r="5.8"/><circle cx="523.3" cy="914.1" r="5.8"/><circle cx="227.2" cy="935.5" r="5.8"/><circle cx="168.0" cy="971.1" r="5.8"/><circle cx="296.4" cy="904.5" r="5.8"/><circle cx="279.9" cy="938.4" r="5.8"/><circle cx="294.4" cy="941.1" r="5.8"/><circle cx="352.8" cy="924.3" r="5.8"/><circle cx="375.4" cy="920.5" r="5.8"/><circle cx="344.8" cy="947.3" r="5.8"/><circle cx="321.9" cy="961.8" r="5.8"/><circle cx="353.2" cy="970.2" r="5.8"/><circle cx="367.0" cy="968.7" r="5.8"/><circle cx="292.9" cy="982.4" r="5.8"/><circle cx="278.0" cy="997.7" r="5.8"/><circle cx="318.1" cy="987.0" r="5.8"/><circle cx="370.1" cy="987.0" r="5.8"/><circle cx="384.7" cy="925.9" r="5.8"/><circle cx="451.3" cy="939.2" r="5.8"/><circle cx="466.7" cy="932.2" r="5.8"/><circle cx="391.0" cy="947.6" r="5.8"/><circle cx="409.2" cy="940.6" r="5.8"/><circle cx="419.0" cy="940.6" r="5.8"/><circle cx="412.0" cy="954.6" r="5.8"/><circle cx="473.7" cy="995.3" r="5.8"/><circle cx="402.2" cy="988.3" r="5.8"/><circle cx="393.8" cy="995.3" r="5.8"/><circle cx="431.7" cy="996.7" r="5.8"/><circle cx="459.7" cy="996.7" r="5.8"/><circle cx="218.7" cy="1027.3" r="5.8"/><circle cx="191.8" cy="1043.2" r="5.8"/><circle cx="247.1" cy="1050.4" r="5.8"/><circle cx="226.4" cy="1062.4" r="5.8"/><circle cx="292.0" cy="1006.1" r="5.8"/><circle cx="293.4" cy="1011.7" r="5.8"/><circle cx="278.7" cy="1018.7" r="5.8"/><circle cx="325.7" cy="1032.0" r="5.8"/><circle cx="350.9" cy="1061.5" r="5.8"/><circle cx="378.9" cy="1004.0" r="5.8"/><circle cx="378.2" cy="1027.1" r="5.8"/><circle cx="464.4" cy="1060.1" r="5.8"/><circle cx="457.4" cy="1078.3" r="5.8"/><circle cx="384.5" cy="1081.1" r="5.8"/><circle cx="425.9" cy="997.0" r="5.8"/><circle cx="369.8" cy="1022.2" r="5.8"/><circle cx="486.1" cy="1075.1" r="5.8"/><circle cx="509.0" cy="1089.2" r="5.8"/><circle cx="479.9" cy="1097.3" r="5.8"/><circle cx="470.0" cy="1114.8" r="5.8"/><circle cx="286.9" cy="1123.8" r="5.8"/><circle cx="420.0" cy="1137.1" r="5.8"/><circle cx="374.4" cy="1161.8" r="5.8"/><circle cx="402.7" cy="1182.1" r="5.8"/><circle cx="305.5" cy="1242.6" r="5.8"/><circle cx="278.0" cy="1261.7" r="5.8"/><circle cx="511.8" cy="1261.7" r="5.8"/><circle cx="503.2" cy="1159.8" r="5.8"/><circle cx="471.8" cy="940.2" r="5.8"/></g>
<g fill="#7E2F8E"><circle cx="448.4" cy="880.0" r="5.8"/><circle cx="471.5" cy="885.2" r="5.8"/><circle cx="408.0" cy="902.4" r="5.8"/><circle cx="468.0" cy="911.8" r="5.8"/><circle cx="381.4" cy="913.9" r="5.8"/><circle cx="498.6" cy="911.8" r="5.8"/><circle cx="536.6" cy="943.9" r="5.8"/><circle cx="548.3" cy="946.2" r="5.8"/><circle cx="335.7" cy="921.7" r="5.8"/><circle cx="354.0" cy="933.2" r="5.8"/><circle cx="367.8" cy="925.6" r="5.8"/><circle cx="351.7" cy="951.1" r="5.8"/><circle cx="330.3" cy="951.8" r="5.8"/><circle cx="292.9" cy="966.1" r="5.8"/><circle cx="295.9" cy="985.5" r="5.8"/><circle cx="319.6" cy="976.3" r="5.8"/><circle cx="391.0" cy="928.0" r="5.8"/><circle cx="408.5" cy="947.6" r="5.8"/><circle cx="420.2" cy="946.2" r="5.8"/><circle cx="398.0" cy="956.1" r="5.8"/><circle cx="416.2" cy="964.5" r="5.8"/><circle cx="398.0" cy="965.9" r="5.8"/><circle cx="433.1" cy="949.0" r="5.8"/><circle cx="448.5" cy="946.2" r="5.8"/><circle cx="451.3" cy="954.6" r="5.8"/><circle cx="469.5" cy="942.0" r="5.8"/><circle cx="410.6" cy="992.5" r="5.8"/><circle cx="423.2" cy="986.9" r="5.8"/><circle cx="400.8" cy="996.7" r="5.8"/><circle cx="393.8" cy="988.3" r="5.8"/><circle cx="510.8" cy="978.5" r="5.8"/><circle cx="497.5" cy="988.3" r="5.8"/><circle cx="499.6" cy="1003.8" r="5.8"/><circle cx="232.7" cy="1065.2" r="5.8"/><circle cx="259.8" cy="1039.7" r="5.8"/><circle cx="320.1" cy="1050.3" r="5.8"/><circle cx="319.4" cy="1065.7" r="5.8"/><circle cx="308.9" cy="1041.1" r="5.8"/><circle cx="327.1" cy="1022.2" r="5.8"/><circle cx="334.1" cy="1088.1" r="5.8"/><circle cx="409.0" cy="1008.2" r="5.8"/><circle cx="411.1" cy="1014.5" r="5.8"/><circle cx="418.9" cy="1009.6" r="5.8"/><circle cx="427.3" cy="1011.0" r="5.8"/><circle cx="435.7" cy="1013.1" r="5.8"/><circle cx="437.8" cy="991.4" r="5.8"/><circle cx="385.2" cy="1065.7" r="5.8"/><circle cx="463.7" cy="1052.4" r="5.8"/><circle cx="378.2" cy="1057.3" r="5.8"/><circle cx="374.0" cy="1026.4" r="5.8"/><circle cx="475.4" cy="1065.2" r="5.8"/><circle cx="289.9" cy="1088.5" r="5.8"/><circle cx="297.4" cy="1115.4" r="5.8"/><circle cx="355.8" cy="1133.3" r="5.8"/><circle cx="398.3" cy="1114.0" r="5.8"/><circle cx="381.0" cy="1119.3" r="5.8"/><circle cx="428.2" cy="1110.2" r="5.8"/><circle cx="396.2" cy="1133.3" r="5.8"/><circle cx="381.1" cy="1202.9" r="5.8"/><circle cx="449.9" cy="1209.4" r="5.8"/><circle cx="333.8" cy="1244.1" r="5.8"/><circle cx="443.8" cy="961.8" r="5.8"/></g>
<g fill="#77AC30"><circle cx="576.3" cy="918.0" r="5.8"/><circle cx="521.7" cy="950.4" r="5.8"/><circle cx="307.8" cy="939.2" r="5.8"/><circle cx="524.1" cy="971.5" r="5.8"/><circle cx="532.1" cy="991.1" r="5.8"/><circle cx="315.4" cy="1264.0" r="5.8"/></g>
<g fill="#4DBEEE"><circle cx="539.9" cy="914.4" r="5.8"/><circle cx="527.7" cy="936.8" r="5.8"/><circle cx="263.4" cy="1015.0" r="5.8"/><circle cx="371.6" cy="943.4" r="5.8"/><circle cx="332.6" cy="950.3" r="5.8"/><circle cx="362.4" cy="964.8" r="5.8"/><circle cx="286.0" cy="976.6" r="5.8"/><circle cx="320.4" cy="985.5" r="5.8"/><circle cx="354.8" cy="997.7" r="5.8"/><circle cx="416.2" cy="988.3" r="5.8"/><circle cx="480.7" cy="1012.9" r="5.8"/><circle cx="247.4" cy="1091.8" r="5.8"/><circle cx="281.9" cy="1015.2" r="5.8"/><circle cx="262.6" cy="1041.8" r="5.8"/><circle cx="275.2" cy="1053.8" r="5.8"/><circle cx="275.5" cy="1068.9" r="5.8"/><circle cx="301.1" cy="1057.3" r="5.8"/><circle cx="296.2" cy="1075.5" r="5.8"/><circle cx="311.7" cy="1025.0" r="5.8"/><circle cx="314.5" cy="1015.2" r="5.8"/><circle cx="322.9" cy="1014.5" r="5.8"/><circle cx="310.3" cy="1012.4" r="5.8"/><circle cx="353.7" cy="1076.9" r="5.8"/><circle cx="336.9" cy="1015.2" r="5.8"/><circle cx="345.3" cy="1013.8" r="5.8"/><circle cx="345.3" cy="1025.0" r="5.8"/><circle cx="378.2" cy="1015.2" r="5.8"/><circle cx="397.1" cy="1029.2" r="5.8"/><circle cx="384.5" cy="1032.0" r="5.8"/><circle cx="420.3" cy="1022.2" r="5.8"/><circle cx="451.1" cy="1015.2" r="5.8"/><circle cx="466.5" cy="1013.8" r="5.8"/><circle cx="446.6" cy="1081.8" r="5.8"/><circle cx="362.8" cy="998.4" r="5.8"/><circle cx="420.3" cy="1027.8" r="5.8"/><circle cx="298.1" cy="1094.1" r="5.8"/><circle cx="299.0" cy="1148.8" r="5.8"/><circle cx="307.0" cy="1197.5" r="5.8"/><circle cx="327.6" cy="1208.2" r="5.8"/></g>
<g fill="#A2142F"><circle cx="550.6" cy="949.8" r="5.8"/><circle cx="587.0" cy="945.5" r="5.8"/><circle cx="510.6" cy="957.7" r="5.8"/><circle cx="521.3" cy="956.9" r="5.8"/><circle cx="334.9" cy="958.7" r="5.8"/><circle cx="278.6" cy="972.2" r="5.8"/><circle cx="413.4" cy="928.0" r="5.8"/><circle cx="443.6" cy="934.3" r="5.8"/><circle cx="455.5" cy="932.9" r="5.8"/><circle cx="542.4" cy="968.7" r="5.8"/><circle cx="550.1" cy="972.9" r="5.8"/><circle cx="523.4" cy="975.0" r="5.8"/><circle cx="513.6" cy="970.1" r="5.8"/><circle cx="526.2" cy="991.1" r="5.8"/><circle cx="501.0" cy="1011.5" r="5.8"/><circle cx="508.7" cy="1012.2" r="5.8"/><circle cx="516.4" cy="1007.3" r="5.8"/><circle cx="267.5" cy="1048.2" r="5.8"/><circle cx="313.8" cy="1034.1" r="5.8"/><circle cx="417.5" cy="1057.3" r="5.8"/><circle cx="366.3" cy="1072.7" r="5.8"/><circle cx="497.5" cy="1060.6" r="5.8"/><circle cx="450.8" cy="1106.3" r="5.8"/></g>
<g fill="#0072BD"><circle cx="538.9" cy="954.6" r="5.8"/><circle cx="376.9" cy="941.1" r="5.8"/><circle cx="295.2" cy="974.8" r="5.8"/><circle cx="299.7" cy="980.1" r="5.8"/><circle cx="536.8" cy="961.7" r="5.8"/><circle cx="480.0" cy="1018.5" r="5.8"/><circle cx="460.9" cy="1022.2" r="5.8"/><circle cx="467.9" cy="1040.4" r="5.8"/><circle cx="458.1" cy="1012.4" r="5.8"/></g>
<g fill="#D95319"><circle cx="488.4" cy="939.4" r="5.8"/><circle cx="537.5" cy="978.5" r="5.8"/><circle cx="496.8" cy="976.4" r="5.8"/><circle cx="505.9" cy="975.0" r="5.8"/><circle cx="508.0" cy="1001.0" r="5.8"/><circle cx="273.5" cy="1034.6" r="5.8"/><circle cx="327.8" cy="1039.0" r="5.8"/><circle cx="325.0" cy="1058.7" r="5.8"/><circle cx="337.6" cy="1057.3" r="5.8"/><circle cx="341.1" cy="1055.9" r="5.8"/><circle cx="353.7" cy="1065.7" r="5.8"/><circle cx="357.9" cy="1064.3" r="5.8"/><circle cx="333.4" cy="1076.2" r="5.8"/><circle cx="349.5" cy="1081.1" r="5.8"/><circle cx="400.6" cy="1022.2" r="5.8"/><circle cx="404.8" cy="1029.2" r="5.8"/><circle cx="407.6" cy="1037.6" r="5.8"/><circle cx="413.2" cy="1037.6" r="5.8"/><circle cx="416.1" cy="1043.2" r="5.8"/><circle cx="407.6" cy="1047.5" r="5.8"/><circle cx="411.8" cy="1050.3" r="5.8"/><circle cx="368.4" cy="1039.0" r="5.8"/><circle cx="375.4" cy="1040.4" r="5.8"/><circle cx="367.0" cy="1047.5" r="5.8"/><circle cx="378.2" cy="1048.9" r="5.8"/><circle cx="376.8" cy="1053.1" r="5.8"/><circle cx="396.4" cy="1060.1" r="5.8"/><circle cx="393.6" cy="1064.3" r="5.8"/></g>
<g fill="#EDB120"><circle cx="503.7" cy="928.4" r="5.8"/><circle cx="493.8" cy="950.1" r="5.8"/><circle cx="489.2" cy="954.6" r="5.8"/><circle cx="496.8" cy="953.1" r="5.8"/><circle cx="483.1" cy="956.2" r="5.8"/><circle cx="476.5" cy="986.9" r="5.8"/><circle cx="505.2" cy="970.1" r="5.8"/><circle cx="520.6" cy="985.3" r="5.8"/><circle cx="488.4" cy="962.4" r="5.8"/><circle cx="495.4" cy="959.6" r="5.8"/><circle cx="484.2" cy="972.2" r="5.8"/><circle cx="484.2" cy="982.0" r="5.8"/><circle cx="485.6" cy="991.8" r="5.8"/><circle cx="494.0" cy="993.2" r="5.8"/><circle cx="505.2" cy="990.4" r="5.8"/><circle cx="509.4" cy="991.8" r="5.8"/><circle cx="488.4" cy="1001.7" r="5.8"/><circle cx="489.8" cy="1012.9" r="5.8"/><circle cx="484.2" cy="1022.7" r="5.8"/><circle cx="488.4" cy="1027.6" r="5.8"/><circle cx="431.5" cy="1025.0" r="5.8"/><circle cx="444.1" cy="1020.1" r="5.8"/><circle cx="435.7" cy="1032.0" r="5.8"/><circle cx="444.1" cy="1033.4" r="5.8"/><circle cx="430.1" cy="1037.6" r="5.8"/><circle cx="432.9" cy="1046.1" r="5.8"/><circle cx="427.3" cy="1051.7" r="5.8"/><circle cx="456.0" cy="1035.5" r="5.8"/><circle cx="413.9" cy="1087.4" r="5.8"/><circle cx="449.7" cy="1002.6" r="5.8"/><circle cx="494.9" cy="1063.9" r="5.8"/><circle cx="322.2" cy="1097.6" r="5.8"/><circle cx="419.6" cy="1094.1" r="5.8"/><circle cx="483.3" cy="968.2" r="5.8"/><circle cx="488.4" cy="972.0" r="5.8"/><circle cx="482.0" cy="977.1" r="5.8"/><circle cx="478.2" cy="983.5" r="5.8"/><circle cx="497.3" cy="996.2" r="5.8"/><circle cx="471.8" cy="998.8" r="5.8"/><circle cx="491.0" cy="1009.0" r="5.8"/><circle cx="451.5" cy="996.2" r="5.8"/><circle cx="456.6" cy="1006.4" r="5.8"/></g>
<g fill="#7E2F8E"><circle cx="374.6" cy="967.9" r="5.8"/><circle cx="461.1" cy="933.6" r="5.8"/><circle cx="451.3" cy="993.9" r="5.8"/><circle cx="254.8" cy="1078.8" r="5.8"/><circle cx="446.9" cy="1008.2" r="5.8"/><circle cx="392.2" cy="1039.7" r="5.8"/><circle cx="388.0" cy="1043.9" r="5.8"/><circle cx="411.8" cy="1061.5" r="5.8"/></g>
<g fill="#77AC30"><circle cx="471.1" cy="904.5" r="5.8"/><circle cx="443.8" cy="918.1" r="5.8"/><circle cx="526.3" cy="900.1" r="5.8"/><circle cx="575.5" cy="954.3" r="5.8"/><circle cx="331.1" cy="942.7" r="5.8"/><circle cx="338.7" cy="948.8" r="5.8"/><circle cx="351.7" cy="961.0" r="5.8"/><circle cx="380.0" cy="952.6" r="5.8"/><circle cx="298.2" cy="997.7" r="5.8"/><circle cx="321.1" cy="972.5" r="5.8"/><circle cx="327.3" cy="977.8" r="5.8"/><circle cx="334.9" cy="979.4" r="5.8"/><circle cx="334.9" cy="985.5" r="5.8"/><circle cx="345.6" cy="977.8" r="5.8"/><circle cx="354.8" cy="977.8" r="5.8"/><circle cx="363.9" cy="977.1" r="5.8"/><circle cx="373.1" cy="977.8" r="5.8"/><circle cx="380.0" cy="977.8" r="5.8"/><circle cx="357.8" cy="985.5" r="5.8"/><circle cx="346.4" cy="990.8" r="5.8"/><circle cx="328.8" cy="997.7" r="5.8"/><circle cx="336.4" cy="998.5" r="5.8"/><circle cx="373.1" cy="990.1" r="5.8"/><circle cx="396.6" cy="936.2" r="5.8"/><circle cx="414.8" cy="933.6" r="5.8"/><circle cx="420.4" cy="931.5" r="5.8"/><circle cx="401.5" cy="946.2" r="5.8"/><circle cx="409.0" cy="961.7" r="5.8"/><circle cx="425.4" cy="958.9" r="5.8"/><circle cx="435.2" cy="958.9" r="5.8"/><circle cx="439.4" cy="950.4" r="5.8"/><circle cx="461.8" cy="947.6" r="5.8"/><circle cx="475.1" cy="947.6" r="5.8"/><circle cx="456.9" cy="953.9" r="5.8"/><circle cx="466.7" cy="956.1" r="5.8"/><circle cx="473.7" cy="958.9" r="5.8"/><circle cx="477.9" cy="964.5" r="5.8"/><circle cx="449.9" cy="965.9" r="5.8"/><circle cx="458.3" cy="965.9" r="5.8"/><circle cx="466.7" cy="965.9" r="5.8"/><circle cx="434.5" cy="967.3" r="5.8"/><circle cx="442.9" cy="972.9" r="5.8"/><circle cx="386.8" cy="977.8" r="5.8"/><circle cx="393.8" cy="977.8" r="5.8"/><circle cx="400.8" cy="977.8" r="5.8"/><circle cx="407.8" cy="977.8" r="5.8"/><circle cx="414.8" cy="977.8" r="5.8"/><circle cx="421.8" cy="977.8" r="5.8"/><circle cx="428.9" cy="977.8" r="5.8"/><circle cx="435.9" cy="977.8" r="5.8"/><circle cx="442.9" cy="977.8" r="5.8"/><circle cx="449.9" cy="977.8" r="5.8"/><circle cx="456.9" cy="977.8" r="5.8"/><circle cx="463.9" cy="977.8" r="5.8"/><circle cx="375.6" cy="982.7" r="5.8"/><circle cx="384.0" cy="982.7" r="5.8"/><circle cx="392.4" cy="982.7" r="5.8"/><circle cx="400.8" cy="982.7" r="5.8"/><circle cx="410.6" cy="982.7" r="5.8"/><circle cx="419.0" cy="982.7" r="5.8"/><circle cx="427.5" cy="982.7" r="5.8"/><circle cx="435.9" cy="982.7" r="5.8"/><circle cx="466.7" cy="986.9" r="5.8"/><circle cx="382.6" cy="992.5" r="5.8"/><circle cx="448.5" cy="989.7" r="5.8"/><circle cx="468.1" cy="998.1" r="5.8"/><circle cx="518.8" cy="1022.0" r="5.8"/><circle cx="302.5" cy="1014.5" r="5.8"/><circle cx="289.2" cy="1025.7" r="5.8"/><circle cx="290.6" cy="1043.9" r="5.8"/><circle cx="290.6" cy="1077.6" r="5.8"/><circle cx="294.8" cy="1085.3" r="5.8"/><circle cx="306.8" cy="1064.3" r="5.8"/><circle cx="314.5" cy="1051.0" r="5.8"/><circle cx="324.3" cy="1025.7" r="5.8"/><circle cx="336.2" cy="1031.3" r="5.8"/><circle cx="350.9" cy="1046.1" r="5.8"/><circle cx="343.9" cy="1048.9" r="5.8"/><circle cx="344.6" cy="1070.6" r="5.8"/><circle cx="315.2" cy="1076.9" r="5.8"/><circle cx="310.3" cy="1081.1" r="5.8"/><circle cx="356.5" cy="1032.0" r="5.8"/><circle cx="369.1" cy="999.1" r="5.8"/><circle cx="389.4" cy="1001.2" r="5.8"/><circle cx="395.0" cy="1005.4" r="5.8"/><circle cx="389.4" cy="1012.4" r="5.8"/><circle cx="397.8" cy="1011.0" r="5.8"/><circle cx="386.6" cy="1022.2" r="5.8"/><circle cx="413.2" cy="1002.6" r="5.8"/><circle cx="425.2" cy="1005.4" r="5.8"/><circle cx="437.1" cy="1002.6" r="5.8"/><circle cx="466.5" cy="1002.6" r="5.8"/><circle cx="465.1" cy="991.4" r="5.8"/><circle cx="390.1" cy="1051.7" r="5.8"/><circle cx="400.6" cy="1051.0" r="5.8"/><circle cx="386.6" cy="1057.3" r="5.8"/><circle cx="423.8" cy="1067.1" r="5.8"/><circle cx="423.8" cy="1072.7" r="5.8"/><circle cx="453.9" cy="1043.9" r="5.8"/><circle cx="460.2" cy="1046.1" r="5.8"/><circle cx="450.4" cy="1055.2" r="5.8"/><circle cx="442.7" cy="1061.5" r="5.8"/><circle cx="392.2" cy="1081.8" r="5.8"/><circle cx="369.1" cy="1066.4" r="5.8"/><circle cx="441.3" cy="1088.1" r="5.8"/><circle cx="360.0" cy="1030.6" r="5.8"/><circle cx="476.9" cy="1041.9" r="5.8"/><circle cx="306.5" cy="1102.2" r="5.8"/><circle cx="332.0" cy="1110.2" r="5.8"/><circle cx="388.0" cy="1103.6" r="5.8"/><circle cx="461.7" cy="968.2" r="5.8"/><circle cx="462.9" cy="986.1" r="5.8"/><circle cx="475.7" cy="1005.2" r="5.8"/></g>
<path d="M103.3 1104.1L736.0 889.5" stroke="#fb0a12" stroke-width="3" fill="none"/>
</g>
<rect x="588.7" y="751" width="198.29999999999995" height="462" fill="#fff"/>
<circle cx="655.4" cy="776.0" r="9.4" fill="#0072BD"/>
<text x="712.3" y="787.0" font-size="30" font-family="'Liberation Serif', serif" fill="#1c1c1c">01-08</text>
<circle cx="655.4" cy="813.5" r="9.4" fill="#D95319"/>
<text x="712.3" y="824.5" font-size="30" font-family="'Liberation Serif', serif" fill="#1c1c1c">01-17</text>
<circle cx="655.4" cy="851.0" r="9.4" fill="#EDB120"/>
<text x="712.3" y="862.0" font-size="30" font-family="'Liberation Serif', serif" fill="#1c1c1c">04-16</text>
<circle cx="655.4" cy="888.6" r="9.4" fill="#7E2F8E"/>
<text x="712.3" y="899.6" font-size="30" font-family="'Liberation Serif', serif" fill="#1c1c1c">05-16</text>
<circle cx="655.4" cy="926.1" r="9.4" fill="#77AC30"/>
<text x="712.3" y="937.1" font-size="30" font-family="'Liberation Serif', serif" fill="#1c1c1c">08-08</text>
<circle cx="655.4" cy="963.6" r="9.4" fill="#4DBEEE"/>
<text x="712.3" y="974.6" font-size="30" font-family="'Liberation Serif', serif" fill="#1c1c1c">09-08</text>
<circle cx="655.4" cy="1001.1" r="9.4" fill="#A2142F"/>
<text x="712.3" y="1012.1" font-size="30" font-family="'Liberation Serif', serif" fill="#1c1c1c">09-17</text>
<circle cx="655.4" cy="1038.6" r="9.4" fill="#0072BD"/>
<text x="712.3" y="1049.6" font-size="30" font-family="'Liberation Serif', serif" fill="#1c1c1c">11-08</text>
<circle cx="655.4" cy="1076.2" r="9.4" fill="#D95319"/>
<text x="712.3" y="1087.2" font-size="30" font-family="'Liberation Serif', serif" fill="#1c1c1c">12-16</text>
<circle cx="655.4" cy="1113.7" r="9.4" fill="#EDB120"/>
<text x="712.3" y="1124.7" font-size="30" font-family="'Liberation Serif', serif" fill="#1c1c1c">13-16</text>
<circle cx="655.4" cy="1151.2" r="9.4" fill="#7E2F8E"/>
<text x="712.3" y="1162.2" font-size="30" font-family="'Liberation Serif', serif" fill="#1c1c1c">14-09</text>
<circle cx="655.4" cy="1188.7" r="9.4" fill="#77AC30"/>
<text x="712.3" y="1199.7" font-size="30" font-family="'Liberation Serif', serif" fill="#1c1c1c">16-08</text>
<path d="M103.3 716.6999999999999V1273.7H736.7" stroke="#262626" stroke-width="1.9" fill="none"/>
<path d="M103.30 1273.7v-7M261.48 1273.7v-7M419.65 1273.7v-7M577.83 1273.7v-7M736.00 1273.7v-7M103.3 717.40h7M103.3 828.66h7M103.3 939.92h7M103.3 1051.18h7M103.3 1162.44h7M103.3 1273.70h7" stroke="#262626" stroke-width="1.8" fill="none"/>
<text x="103.3" y="1318.8" font-size="35.0" text-anchor="middle" font-family="'Liberation Serif', serif" fill="#1c1c1c">2.3</text>
<text x="261.5" y="1318.8" font-size="35.0" text-anchor="middle" font-family="'Liberation Serif', serif" fill="#1c1c1c">2.4</text>
<text x="419.7" y="1318.8" font-size="35.0" text-anchor="middle" font-family="'Liberation Serif', serif" fill="#1c1c1c">2.5</text>
<text x="577.8" y="1318.8" font-size="35.0" text-anchor="middle" font-family="'Liberation Serif', serif" fill="#1c1c1c">2.6</text>
<text x="736.0" y="1318.8" font-size="35.0" text-anchor="middle" font-family="'Liberation Serif', serif" fill="#1c1c1c">2.7</text>
<text x="88.6" y="731.1" font-size="35.0" text-anchor="end" font-family="'Liberation Serif', serif" fill="#1c1c1c">3</text>
<text x="88.6" y="842.4" font-size="35.0" text-anchor="end" font-family="'Liberation Serif', serif" fill="#1c1c1c">2.8</text>
<text x="88.6" y="953.6" font-size="35.0" text-anchor="end" font-family="'Liberation Serif', serif" fill="#1c1c1c">2.6</text>
<text x="88.6" y="1064.9" font-size="35.0" text-anchor="end" font-family="'Liberation Serif', serif" fill="#1c1c1c">2.4</text>
<text x="88.6" y="1176.1" font-size="35.0" text-anchor="end" font-family="'Liberation Serif', serif" fill="#1c1c1c">2.2</text>
<text x="88.6" y="1287.4" font-size="35.0" text-anchor="end" font-family="'Liberation Serif', serif" fill="#1c1c1c">2</text>
<text x="419.2" y="1364" font-size="37.3" text-anchor="middle" font-family="'Liberation Serif', serif" fill="#1c1c1c">Inverted density (g/cc)</text>
<text transform="translate(29.1 999.2) rotate(-90)" font-size="37.6" text-anchor="middle" font-family="'Liberation Serif', serif" fill="#1c1c1c">Actual density (g/cc)</text>
<text x="110.4" y="1255" font-size="39.3" font-weight="bold" font-family="'Liberation Serif', serif" fill="#111">(b)</text>
<text x="184" y="812" font-size="36.8" font-family="'Liberation Serif', serif" fill="#111">r<tspan dy="-17.7" font-size="28">2</tspan><tspan dy="17.7" dx="0.5"> = 0.58</tspan></text>
</svg></body></html>
